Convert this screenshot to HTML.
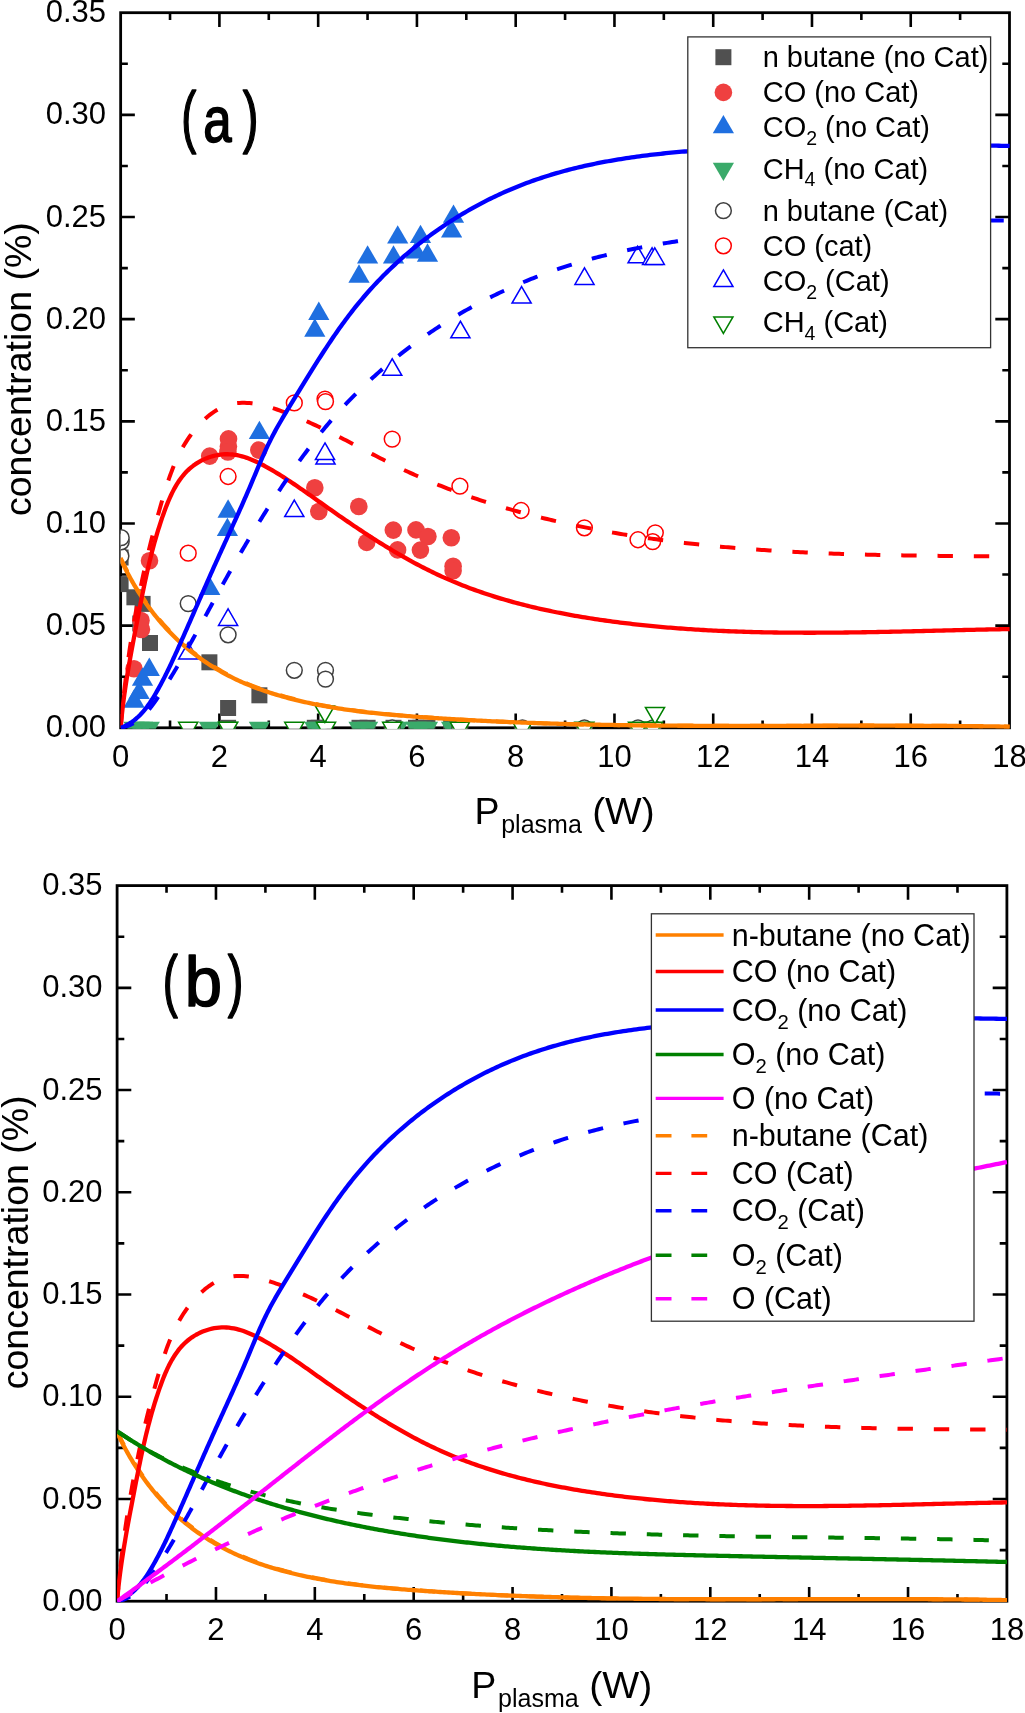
<!DOCTYPE html>
<html><head><meta charset="utf-8"><style>html,body{margin:0;padding:0;background:#fff}svg{display:block;will-change:transform}</style></head>
<body>
<svg width="1025" height="1713" viewBox="0 0 1025 1713">
<style>text{font-family:"Liberation Sans",sans-serif;fill:#000}.tl{font-size:31px}.at{font-size:37.5px}.lg{font-size:29px}.lgb{font-size:30.5px}</style>
<rect width="1025" height="1713" fill="#fff"/>
<clipPath id="ca"><rect x="120.65" y="12.7" width="889.35" height="716.0999999999999"/></clipPath>
<path d="M170.03,727.8v-7.2M170.03,12.7v7.2M219.41,727.8v-14.2M219.41,12.7v14.2M268.79,727.8v-7.2M268.79,12.7v7.2M318.17,727.8v-14.2M318.17,12.7v14.2M367.55,727.8v-7.2M367.55,12.7v7.2M416.93,727.8v-14.2M416.93,12.7v14.2M466.31,727.8v-7.2M466.31,12.7v7.2M515.69,727.8v-14.2M515.69,12.7v14.2M565.08,727.8v-7.2M565.08,12.7v7.2M614.46,727.8v-14.2M614.46,12.7v14.2M663.84,727.8v-7.2M663.84,12.7v7.2M713.22,727.8v-14.2M713.22,12.7v14.2M762.60,727.8v-7.2M762.60,12.7v7.2M811.98,727.8v-14.2M811.98,12.7v14.2M861.36,727.8v-7.2M861.36,12.7v7.2M910.74,727.8v-14.2M910.74,12.7v14.2M960.12,727.8v-7.2M960.12,12.7v7.2M120.65,676.72h7.2M1009.5,676.72h-7.2M120.65,625.64h14.2M1009.5,625.64h-14.2M120.65,574.56h7.2M1009.5,574.56h-7.2M120.65,523.49h14.2M1009.5,523.49h-14.2M120.65,472.41h7.2M1009.5,472.41h-7.2M120.65,421.33h14.2M1009.5,421.33h-14.2M120.65,370.25h7.2M1009.5,370.25h-7.2M120.65,319.17h14.2M1009.5,319.17h-14.2M120.65,268.09h7.2M1009.5,268.09h-7.2M120.65,217.01h14.2M1009.5,217.01h-14.2M120.65,165.94h7.2M1009.5,165.94h-7.2M120.65,114.86h14.2M1009.5,114.86h-14.2M120.65,63.78h7.2M1009.5,63.78h-7.2" stroke="#000" stroke-width="2.6" fill="none"/>
<text x="120.65" y="766.80" text-anchor="middle" class="tl">0</text>
<text x="219.41" y="766.80" text-anchor="middle" class="tl">2</text>
<text x="318.17" y="766.80" text-anchor="middle" class="tl">4</text>
<text x="416.93" y="766.80" text-anchor="middle" class="tl">6</text>
<text x="515.69" y="766.80" text-anchor="middle" class="tl">8</text>
<text x="614.46" y="766.80" text-anchor="middle" class="tl">10</text>
<text x="713.22" y="766.80" text-anchor="middle" class="tl">12</text>
<text x="811.98" y="766.80" text-anchor="middle" class="tl">14</text>
<text x="910.74" y="766.80" text-anchor="middle" class="tl">16</text>
<text x="1009.50" y="766.80" text-anchor="middle" class="tl">18</text>
<text x="106.05" y="737.40" text-anchor="end" class="tl">0.00</text>
<text x="106.05" y="635.24" text-anchor="end" class="tl">0.05</text>
<text x="106.05" y="533.09" text-anchor="end" class="tl">0.10</text>
<text x="106.05" y="430.93" text-anchor="end" class="tl">0.15</text>
<text x="106.05" y="328.77" text-anchor="end" class="tl">0.20</text>
<text x="106.05" y="226.61" text-anchor="end" class="tl">0.25</text>
<text x="106.05" y="124.46" text-anchor="end" class="tl">0.30</text>
<text x="106.05" y="22.30" text-anchor="end" class="tl">0.35</text>
<rect x="120.65" y="12.7" width="888.85" height="715.10" fill="none" stroke="#000" stroke-width="2.8"/>
<g clip-path="url(#ca)">
<rect x="112.60" y="549.50" width="16" height="16" fill="#505050"/>
<rect x="112.60" y="576.10" width="16" height="16" fill="#505050"/>
<rect x="126.40" y="589.30" width="16" height="16" fill="#505050"/>
<rect x="134.60" y="595.90" width="16" height="16" fill="#505050"/>
<rect x="132.30" y="615.50" width="16" height="16" fill="#505050"/>
<rect x="142.00" y="635.00" width="16" height="16" fill="#505050"/>
<rect x="201.40" y="654.30" width="16" height="16" fill="#505050"/>
<rect x="220.10" y="700.00" width="16" height="16" fill="#505050"/>
<rect x="251.40" y="687.30" width="16" height="16" fill="#505050"/>
<rect x="220.10" y="719.80" width="16" height="16" fill="#505050"/>
<rect x="306.80" y="719.80" width="16" height="16" fill="#505050"/>
<rect x="310.80" y="719.80" width="16" height="16" fill="#505050"/>
<rect x="351.50" y="719.80" width="16" height="16" fill="#505050"/>
<rect x="359.60" y="719.80" width="16" height="16" fill="#505050"/>
<rect x="385.50" y="719.80" width="16" height="16" fill="#505050"/>
<rect x="408.00" y="719.80" width="16" height="16" fill="#505050"/>
<rect x="412.40" y="719.80" width="16" height="16" fill="#505050"/>
<rect x="419.40" y="719.80" width="16" height="16" fill="#505050"/>
<rect x="443.20" y="719.80" width="16" height="16" fill="#505050"/>
<rect x="445.00" y="719.80" width="16" height="16" fill="#505050"/>
<circle cx="134.00" cy="668.70" r="8.8" fill="#ef4040"/>
<circle cx="141.00" cy="620.50" r="8.8" fill="#ef4040"/>
<circle cx="141.40" cy="629.50" r="8.8" fill="#ef4040"/>
<circle cx="149.50" cy="560.80" r="8.8" fill="#ef4040"/>
<circle cx="209.70" cy="456.10" r="8.8" fill="#ef4040"/>
<circle cx="228.50" cy="438.90" r="8.8" fill="#ef4040"/>
<circle cx="228.40" cy="446.50" r="8.8" fill="#ef4040"/>
<circle cx="227.90" cy="452.00" r="8.8" fill="#ef4040"/>
<circle cx="258.80" cy="450.10" r="8.8" fill="#ef4040"/>
<circle cx="314.80" cy="487.80" r="8.8" fill="#ef4040"/>
<circle cx="318.80" cy="511.50" r="8.8" fill="#ef4040"/>
<circle cx="358.80" cy="506.50" r="8.8" fill="#ef4040"/>
<circle cx="366.70" cy="542.40" r="8.8" fill="#ef4040"/>
<circle cx="393.30" cy="530.10" r="8.8" fill="#ef4040"/>
<circle cx="397.60" cy="549.90" r="8.8" fill="#ef4040"/>
<circle cx="416.00" cy="529.90" r="8.8" fill="#ef4040"/>
<circle cx="427.90" cy="536.50" r="8.8" fill="#ef4040"/>
<circle cx="420.40" cy="550.10" r="8.8" fill="#ef4040"/>
<circle cx="451.30" cy="537.70" r="8.8" fill="#ef4040"/>
<circle cx="453.10" cy="566.30" r="8.8" fill="#ef4040"/>
<circle cx="453.10" cy="570.80" r="8.8" fill="#ef4040"/>
<polygon points="134.10,689.35 144.71,707.73 123.49,707.73" fill="#1f6fe0"/>
<polygon points="139.10,680.55 149.71,698.92 128.49,698.92" fill="#1f6fe0"/>
<polygon points="142.50,667.45 153.11,685.83 131.89,685.83" fill="#1f6fe0"/>
<polygon points="149.30,657.55 159.91,675.92 138.69,675.92" fill="#1f6fe0"/>
<polygon points="209.80,576.75 220.41,595.12 199.19,595.12" fill="#1f6fe0"/>
<polygon points="227.40,517.75 238.01,536.12 216.79,536.12" fill="#1f6fe0"/>
<polygon points="228.10,499.35 238.71,517.73 217.49,517.73" fill="#1f6fe0"/>
<polygon points="259.40,420.75 270.01,439.12 248.79,439.12" fill="#1f6fe0"/>
<polygon points="314.80,318.35 325.41,336.73 304.19,336.73" fill="#1f6fe0"/>
<polygon points="318.80,301.55 329.41,319.93 308.19,319.93" fill="#1f6fe0"/>
<polygon points="359.00,264.35 369.61,282.73 348.39,282.73" fill="#1f6fe0"/>
<polygon points="367.60,245.25 378.21,263.62 356.99,263.62" fill="#1f6fe0"/>
<polygon points="393.50,245.25 404.11,263.62 382.89,263.62" fill="#1f6fe0"/>
<polygon points="397.70,225.15 408.31,243.53 387.09,243.53" fill="#1f6fe0"/>
<polygon points="416.10,240.25 426.71,258.62 405.49,258.62" fill="#1f6fe0"/>
<polygon points="420.50,224.75 431.11,243.12 409.89,243.12" fill="#1f6fe0"/>
<polygon points="427.50,243.35 438.11,261.73 416.89,261.73" fill="#1f6fe0"/>
<polygon points="451.60,219.05 462.21,237.43 440.99,237.43" fill="#1f6fe0"/>
<polygon points="453.50,204.45 464.11,222.82 442.89,222.82" fill="#1f6fe0"/>
<polygon points="134.10,740.05 144.71,721.67 123.49,721.67" fill="#3aaa6a"/>
<polygon points="139.10,740.05 149.71,721.67 128.49,721.67" fill="#3aaa6a"/>
<polygon points="142.50,740.05 153.11,721.67 131.89,721.67" fill="#3aaa6a"/>
<polygon points="149.30,740.05 159.91,721.67 138.69,721.67" fill="#3aaa6a"/>
<polygon points="209.40,740.05 220.01,721.67 198.79,721.67" fill="#3aaa6a"/>
<polygon points="228.10,740.05 238.71,721.67 217.49,721.67" fill="#3aaa6a"/>
<polygon points="259.40,740.05 270.01,721.67 248.79,721.67" fill="#3aaa6a"/>
<polygon points="314.80,740.05 325.41,721.67 304.19,721.67" fill="#3aaa6a"/>
<polygon points="318.80,740.05 329.41,721.67 308.19,721.67" fill="#3aaa6a"/>
<polygon points="359.00,740.05 369.61,721.67 348.39,721.67" fill="#3aaa6a"/>
<polygon points="367.60,740.05 378.21,721.67 356.99,721.67" fill="#3aaa6a"/>
<polygon points="393.50,740.05 404.11,721.67 382.89,721.67" fill="#3aaa6a"/>
<polygon points="397.70,740.05 408.31,721.67 387.09,721.67" fill="#3aaa6a"/>
<polygon points="416.10,740.05 426.71,721.67 405.49,721.67" fill="#3aaa6a"/>
<polygon points="420.50,740.05 431.11,721.67 409.89,721.67" fill="#3aaa6a"/>
<polygon points="427.50,740.05 438.11,721.67 416.89,721.67" fill="#3aaa6a"/>
<polygon points="451.60,740.05 462.21,721.67 440.99,721.67" fill="#3aaa6a"/>
<polygon points="453.50,740.05 464.11,721.67 442.89,721.67" fill="#3aaa6a"/>
<circle cx="120.90" cy="556.00" r="7.9" fill="#fff" stroke="#404040" stroke-width="1.5"/>
<circle cx="121.20" cy="541.80" r="7.9" fill="#fff" stroke="#404040" stroke-width="1.5"/>
<circle cx="121.20" cy="537.70" r="7.9" fill="#fff" stroke="#404040" stroke-width="1.5"/>
<circle cx="188.20" cy="603.60" r="7.9" fill="#fff" stroke="#404040" stroke-width="1.5"/>
<circle cx="228.10" cy="634.80" r="7.9" fill="#fff" stroke="#404040" stroke-width="1.5"/>
<circle cx="294.30" cy="670.30" r="7.9" fill="#fff" stroke="#404040" stroke-width="1.5"/>
<circle cx="325.50" cy="670.30" r="7.9" fill="#fff" stroke="#404040" stroke-width="1.5"/>
<circle cx="325.50" cy="679.10" r="7.9" fill="#fff" stroke="#404040" stroke-width="1.5"/>
<circle cx="392.20" cy="727.80" r="7.9" fill="#fff" stroke="#404040" stroke-width="1.5"/>
<circle cx="459.90" cy="727.80" r="7.9" fill="#fff" stroke="#404040" stroke-width="1.5"/>
<circle cx="522.40" cy="727.80" r="7.9" fill="#fff" stroke="#404040" stroke-width="1.5"/>
<circle cx="584.40" cy="727.80" r="7.9" fill="#fff" stroke="#404040" stroke-width="1.5"/>
<circle cx="638.00" cy="727.80" r="7.9" fill="#fff" stroke="#404040" stroke-width="1.5"/>
<circle cx="653.00" cy="727.80" r="7.9" fill="#fff" stroke="#404040" stroke-width="1.5"/>
<circle cx="188.20" cy="553.20" r="7.9" fill="#fff" stroke="#ff0000" stroke-width="1.5"/>
<circle cx="228.10" cy="476.50" r="7.9" fill="#fff" stroke="#ff0000" stroke-width="1.5"/>
<circle cx="294.30" cy="402.90" r="7.9" fill="#fff" stroke="#ff0000" stroke-width="1.5"/>
<circle cx="325.00" cy="399.10" r="7.9" fill="#fff" stroke="#ff0000" stroke-width="1.5"/>
<circle cx="325.50" cy="401.60" r="7.9" fill="#fff" stroke="#ff0000" stroke-width="1.5"/>
<circle cx="392.20" cy="439.10" r="7.9" fill="#fff" stroke="#ff0000" stroke-width="1.5"/>
<circle cx="459.90" cy="486.20" r="7.9" fill="#fff" stroke="#ff0000" stroke-width="1.5"/>
<circle cx="521.10" cy="510.50" r="7.9" fill="#fff" stroke="#ff0000" stroke-width="1.5"/>
<circle cx="584.40" cy="527.80" r="7.9" fill="#fff" stroke="#ff0000" stroke-width="1.5"/>
<circle cx="638.00" cy="539.75" r="7.9" fill="#fff" stroke="#ff0000" stroke-width="1.5"/>
<circle cx="655.30" cy="532.80" r="7.9" fill="#fff" stroke="#ff0000" stroke-width="1.5"/>
<circle cx="652.70" cy="541.70" r="7.9" fill="#fff" stroke="#ff0000" stroke-width="1.5"/>
<polygon points="188.20,642.55 197.77,659.12 178.63,659.12" fill="#fff" stroke="#0000ff" stroke-width="1.5" stroke-linejoin="miter"/>
<polygon points="228.10,608.85 237.67,625.42 218.53,625.42" fill="#fff" stroke="#0000ff" stroke-width="1.5" stroke-linejoin="miter"/>
<polygon points="294.30,500.05 303.87,516.62 284.73,516.62" fill="#fff" stroke="#0000ff" stroke-width="1.5" stroke-linejoin="miter"/>
<polygon points="325.50,447.45 335.07,464.02 315.93,464.02" fill="#fff" stroke="#0000ff" stroke-width="1.5" stroke-linejoin="miter"/>
<polygon points="325.00,442.95 334.57,459.52 315.43,459.52" fill="#fff" stroke="#0000ff" stroke-width="1.5" stroke-linejoin="miter"/>
<polygon points="392.20,358.75 401.77,375.32 382.63,375.32" fill="#fff" stroke="#0000ff" stroke-width="1.5" stroke-linejoin="miter"/>
<polygon points="460.40,321.25 469.97,337.82 450.83,337.82" fill="#fff" stroke="#0000ff" stroke-width="1.5" stroke-linejoin="miter"/>
<polygon points="521.60,286.55 531.17,303.12 512.03,303.12" fill="#fff" stroke="#0000ff" stroke-width="1.5" stroke-linejoin="miter"/>
<polygon points="584.50,267.85 594.07,284.42 574.93,284.42" fill="#fff" stroke="#0000ff" stroke-width="1.5" stroke-linejoin="miter"/>
<polygon points="637.60,246.25 647.17,262.82 628.03,262.82" fill="#fff" stroke="#0000ff" stroke-width="1.5" stroke-linejoin="miter"/>
<polygon points="652.10,247.85 661.67,264.42 642.53,264.42" fill="#fff" stroke="#0000ff" stroke-width="1.5" stroke-linejoin="miter"/>
<polygon points="654.80,247.85 664.37,264.42 645.23,264.42" fill="#fff" stroke="#0000ff" stroke-width="1.5" stroke-linejoin="miter"/>
<polygon points="188.20,738.85 197.77,722.27 178.63,722.27" fill="#fff" stroke="#008000" stroke-width="1.5" stroke-linejoin="miter"/>
<polygon points="228.10,738.85 237.67,722.27 218.53,722.27" fill="#fff" stroke="#008000" stroke-width="1.5" stroke-linejoin="miter"/>
<polygon points="294.30,738.85 303.87,722.27 284.73,722.27" fill="#fff" stroke="#008000" stroke-width="1.5" stroke-linejoin="miter"/>
<polygon points="326.00,738.85 335.57,722.27 316.43,722.27" fill="#fff" stroke="#008000" stroke-width="1.5" stroke-linejoin="miter"/>
<polygon points="392.20,738.85 401.77,722.27 382.63,722.27" fill="#fff" stroke="#008000" stroke-width="1.5" stroke-linejoin="miter"/>
<polygon points="459.90,738.85 469.47,722.27 450.33,722.27" fill="#fff" stroke="#008000" stroke-width="1.5" stroke-linejoin="miter"/>
<polygon points="522.40,738.85 531.97,722.27 512.83,722.27" fill="#fff" stroke="#008000" stroke-width="1.5" stroke-linejoin="miter"/>
<polygon points="584.40,738.85 593.97,722.27 574.83,722.27" fill="#fff" stroke="#008000" stroke-width="1.5" stroke-linejoin="miter"/>
<polygon points="638.00,738.85 647.57,722.27 628.43,722.27" fill="#fff" stroke="#008000" stroke-width="1.5" stroke-linejoin="miter"/>
<polygon points="653.00,738.85 662.57,722.27 643.43,722.27" fill="#fff" stroke="#008000" stroke-width="1.5" stroke-linejoin="miter"/>
<polygon points="324.90,722.45 334.47,705.88 315.33,705.88" fill="#fff" stroke="#008000" stroke-width="1.5" stroke-linejoin="miter"/>
<polygon points="655.00,723.95 664.57,707.38 645.43,707.38" fill="#fff" stroke="#008000" stroke-width="1.5" stroke-linejoin="miter"/>
<path d="M120.66,559.10 L121.56,561.01 L122.46,562.92 L123.39,564.82 L124.32,566.71 L125.27,568.60 L126.23,570.49 L127.21,572.37 L128.20,574.24 L129.21,576.11 L130.22,577.97 L131.26,579.82 L132.30,581.67 L133.36,583.51 L134.44,585.34 L135.53,587.17 L136.63,588.98 L137.74,590.79 L138.87,592.59 L140.02,594.39 L141.17,596.17 L142.35,597.94 L143.53,599.71 L144.73,601.46 L145.94,603.21 L147.17,604.94 L148.41,606.66 L149.67,608.38 L150.93,610.08 L152.22,611.77 L153.51,613.45 L154.82,615.12 L156.15,616.77 L157.49,618.41 L158.84,620.04 L160.20,621.66 L161.58,623.27 L162.98,624.86 L164.39,626.43 L165.81,628.00 L167.24,629.55 L168.69,631.08 L170.16,632.60 L171.64,634.10 L173.13,635.59 L174.63,637.07 L176.15,638.53 L177.68,639.97 L179.23,641.40 L180.79,642.81 L182.36,644.21 L183.95,645.59 L185.55,646.96 L187.16,648.31 L188.78,649.64 L190.41,650.96 L192.06,652.27 L193.72,653.56 L195.39,654.83 L197.07,656.09 L198.77,657.33 L200.47,658.55 L202.19,659.76 L203.92,660.96 L205.66,662.14 L207.41,663.30 L209.17,664.45 L210.94,665.58 L212.72,666.69 L214.51,667.79 L216.31,668.87 L218.12,669.94 L219.94,670.99 L221.77,672.02 L223.61,673.04 L225.46,674.05 L227.31,675.03 L229.18,676.00 L231.05,676.96 L232.94,677.89 L234.83,678.81 L236.73,679.72 L238.64,680.61 L240.55,681.48 L242.47,682.34 L244.41,683.18 L246.34,684.00 L248.29,684.81 L250.24,685.60 L252.20,686.38 L254.17,687.14 L256.14,687.89 L258.11,688.62 L260.10,689.34 L262.09,690.04 L264.08,690.73 L266.08,691.41 L268.08,692.07 L270.09,692.72 L272.10,693.36 L274.12,693.99 L276.14,694.60 L278.16,695.21 L280.19,695.80 L282.22,696.38 L284.25,696.94 L286.28,697.50 L288.32,698.05 L290.36,698.59 L292.40,699.11 L294.45,699.63 L296.50,700.13 L298.55,700.63 L300.60,701.11 L302.65,701.59 L304.71,702.06 L306.77,702.51 L308.83,702.96 L310.90,703.40 L312.96,703.83 L315.03,704.25 L317.10,704.66 L319.17,705.06 L321.24,705.46 L323.32,705.84 L325.40,706.22 L327.48,706.59 L329.56,706.95 L331.64,707.31 L333.72,707.66 L335.81,707.99 L337.90,708.33 L339.99,708.65 L342.08,708.97 L344.17,709.28 L346.26,709.58 L348.36,709.88 L350.45,710.17 L352.55,710.46 L354.65,710.73 L356.75,711.01 L358.85,711.27 L360.95,711.53 L363.06,711.79 L365.16,712.03 L367.27,712.28 L369.37,712.52 L371.48,712.75 L373.59,712.98 L375.70,713.20 L377.81,713.42 L379.92,713.63 L382.03,713.84 L384.14,714.05 L386.26,714.25 L388.37,714.45 L390.48,714.64 L392.60,714.83 L394.71,715.02 L396.83,715.20 L398.94,715.38 L401.06,715.55 L403.18,715.73 L405.29,715.90 L407.41,716.06 L409.53,716.23 L411.64,716.39 L413.76,716.55 L415.88,716.71 L417.99,716.86 L420.11,717.02 L422.23,717.17 L424.35,717.32 L426.46,717.47 L428.58,717.61 L430.70,717.76 L432.81,717.90 L434.93,718.04 L437.04,718.18 L439.16,718.32 L441.28,718.46 L443.39,718.59 L445.51,718.73 L447.62,718.86 L449.74,718.99 L451.86,719.12 L453.97,719.25 L456.09,719.37 L458.20,719.50 L460.32,719.62 L462.43,719.74 L464.55,719.86 L466.66,719.98 L468.78,720.09 L470.89,720.21 L473.01,720.32 L475.12,720.43 L477.23,720.54 L479.35,720.65 L481.46,720.76 L483.58,720.87 L485.69,720.97 L487.81,721.07 L489.92,721.18 L492.03,721.28 L494.15,721.38 L496.26,721.47 L498.38,721.57 L500.49,721.66 L502.60,721.76 L504.72,721.85 L506.83,721.94 L508.94,722.03 L511.06,722.12 L513.17,722.21 L515.28,722.29 L517.39,722.37 L519.51,722.46 L521.62,722.54 L523.73,722.62 L525.85,722.70 L527.96,722.78 L530.07,722.85 L532.18,722.93 L534.30,723.00 L536.41,723.08 L538.52,723.15 L540.63,723.22 L542.75,723.29 L544.86,723.36 L546.97,723.42 L549.08,723.49 L551.19,723.55 L553.31,723.62 L555.42,723.68 L557.53,723.74 L559.64,723.80 L561.75,723.86 L563.86,723.92 L565.98,723.98 L568.09,724.03 L570.20,724.09 L572.31,724.14 L574.42,724.19 L576.53,724.24 L578.64,724.29 L580.76,724.34 L582.87,724.39 L584.98,724.44 L587.09,724.49 L589.20,724.53 L591.31,724.58 L593.42,724.62 L595.53,724.66 L597.64,724.71 L599.76,724.75 L601.87,724.79 L603.98,724.83 L606.09,724.86 L608.20,724.90 L610.31,724.94 L612.42,724.97 L614.53,725.01 L616.64,725.04 L618.75,725.08 L620.86,725.11 L622.97,725.14 L625.08,725.17 L627.19,725.20 L629.30,725.23 L631.42,725.26 L633.53,725.28 L635.64,725.31 L637.75,725.34 L639.86,725.36 L641.97,725.39 L644.08,725.41 L646.19,725.43 L648.30,725.45 L650.41,725.48 L652.52,725.50 L654.63,725.52 L656.74,725.54 L658.85,725.55 L660.96,725.57 L663.07,725.59 L665.18,725.61 L667.29,725.62 L669.40,725.64 L671.51,725.65 L673.62,725.67 L675.73,725.68 L677.84,725.69 L679.95,725.71 L682.06,725.72 L684.17,725.73 L686.28,725.74 L688.39,725.75 L690.50,725.76 L692.61,725.77 L694.72,725.78 L696.83,725.79 L698.94,725.80 L701.05,725.80 L703.16,725.81 L705.27,725.82 L707.38,725.82 L709.49,725.83 L711.60,725.83 L713.71,725.84 L715.82,725.84 L717.93,725.85 L720.04,725.85 L722.15,725.85 L724.26,725.86 L726.37,725.86 L728.48,725.86 L730.59,725.86 L732.70,725.86 L734.81,725.86 L736.92,725.86 L739.03,725.86 L741.14,725.86 L743.26,725.86 L745.37,725.86 L747.48,725.86 L749.59,725.86 L751.70,725.86 L753.81,725.86 L755.92,725.86 L758.03,725.86 L760.14,725.85 L762.25,725.85 L764.36,725.85 L766.47,725.85 L768.58,725.84 L770.69,725.84 L772.80,725.84 L774.91,725.83 L777.02,725.83 L779.13,725.82 L781.25,725.82 L783.36,725.82 L785.47,725.81 L787.58,725.81 L789.69,725.80 L791.80,725.80 L793.91,725.80 L796.02,725.79 L798.13,725.79 L800.24,725.78 L802.36,725.78 L804.47,725.77 L806.58,725.77 L808.69,725.76 L810.80,725.76 L812.91,725.75 L815.02,725.75 L817.14,725.74 L819.25,725.74 L821.36,725.74 L823.47,725.73 L825.58,725.73 L827.69,725.72 L829.81,725.72 L831.92,725.71 L834.03,725.71 L836.14,725.71 L838.25,725.70 L840.37,725.70 L842.48,725.70 L844.59,725.69 L846.70,725.69 L848.82,725.69 L850.93,725.68 L853.04,725.68 L855.15,725.68 L857.27,725.68 L859.38,725.68 L861.49,725.67 L863.60,725.67 L865.72,725.67 L867.83,725.67 L869.94,725.67 L872.06,725.67 L874.17,725.67 L876.28,725.67 L878.40,725.67 L880.51,725.67 L882.62,725.67 L884.74,725.67 L886.85,725.68 L888.96,725.68 L891.08,725.68 L893.19,725.68 L895.31,725.69 L897.42,725.69 L899.53,725.70 L901.65,725.70 L903.76,725.71 L905.88,725.71 L907.99,725.72 L910.11,725.72 L912.22,725.73 L914.33,725.74 L916.45,725.75 L918.56,725.75 L920.68,725.76 L922.79,725.77 L924.91,725.78 L927.03,725.79 L929.14,725.80 L931.26,725.81 L933.37,725.83 L935.49,725.84 L937.60,725.85 L939.72,725.87 L941.83,725.88 L943.95,725.89 L946.07,725.91 L948.18,725.93 L950.30,725.94 L952.42,725.96 L954.53,725.98 L956.65,726.00 L958.77,726.02 L960.88,726.04 L963.00,726.06 L965.12,726.08 L967.23,726.10 L969.35,726.12 L971.47,726.15 L973.59,726.17 L975.70,726.20 L977.82,726.22 L979.94,726.25 L982.06,726.27 L984.18,726.30 L986.29,726.33 L988.41,726.36 L990.53,726.39 L992.65,726.42 L994.77,726.46 L996.89,726.49 L999.01,726.52 L1001.12,726.56 L1003.24,726.59 L1005.36,726.63 L1007.48,726.67 L1009.60,726.70" fill="none" stroke="#ff8000" stroke-width="4.3" stroke-linejoin="round"/>
<path d="M120.66,557.88 L121.56,559.79 L122.46,561.69 L123.38,563.59 L124.32,565.49 L125.27,567.38 L126.23,569.27 L127.21,571.15 L128.20,573.02 L129.20,574.89 L130.22,576.75 L131.25,578.61 L132.29,580.46 L133.35,582.30 L134.43,584.13 L135.51,585.96 L136.61,587.78 L137.73,589.59 L138.85,591.39 L139.99,593.19 L141.15,594.97 L142.32,596.75 L143.50,598.52 L144.70,600.27 L145.91,602.02 L147.13,603.76 L148.37,605.49 L149.62,607.20 L150.89,608.91 L152.17,610.60 L153.46,612.28 L154.77,613.95 L156.09,615.61 L157.43,617.26 L158.78,618.89 L160.14,620.51 L161.52,622.12 L162.91,623.72 L164.31,625.30 L165.73,626.87 L167.16,628.42 L168.61,629.96 L170.07,631.48 L171.54,632.99 L173.03,634.49 L174.54,635.97 L176.05,637.43 L177.58,638.88 L179.12,640.32 L180.68,641.73 L182.25,643.14 L183.83,644.53 L185.42,645.90 L187.03,647.25 L188.65,648.60 L190.28,649.92 L191.93,651.23 L193.58,652.53 L195.25,653.81 L196.93,655.07 L198.62,656.32 L200.32,657.55 L202.03,658.77 L203.76,659.97 L205.49,661.16 L207.24,662.33 L209.00,663.48 L210.76,664.62 L212.54,665.74 L214.33,666.85 L216.13,667.94 L217.93,669.02 L219.75,670.08 L221.58,671.12 L223.41,672.15 L225.26,673.16 L227.11,674.15 L228.97,675.13 L230.84,676.09 L232.72,677.04 L234.61,677.97 L236.51,678.88 L238.42,679.78 L240.33,680.66 L242.25,681.53 L244.18,682.38 L246.11,683.21 L248.06,684.03 L250.01,684.83 L251.96,685.62 L253.93,686.39 L255.89,687.14 L257.87,687.89 L259.85,688.61 L261.84,689.33 L263.83,690.03 L265.83,690.72 L267.83,691.39 L269.83,692.05 L271.84,692.70 L273.86,693.33 L275.88,693.96 L277.90,694.57 L279.92,695.17 L281.95,695.76 L283.98,696.34 L286.02,696.90 L288.05,697.46 L290.09,698.00 L292.13,698.54 L294.18,699.06 L296.22,699.58 L298.27,700.08 L300.32,700.58 L302.38,701.06 L304.43,701.54 L306.49,702.00 L308.55,702.46 L310.61,702.91 L312.68,703.34 L314.75,703.77 L316.82,704.19 L318.89,704.60 L320.96,705.01 L323.03,705.40 L325.11,705.79 L327.19,706.17 L329.27,706.54 L331.35,706.90 L333.44,707.25 L335.52,707.60 L337.61,707.94 L339.70,708.27 L341.79,708.60 L343.88,708.92 L345.97,709.23 L348.07,709.53 L350.16,709.83 L352.26,710.12 L354.36,710.41 L356.46,710.69 L358.56,710.96 L360.66,711.23 L362.77,711.49 L364.87,711.75 L366.98,712.00 L369.08,712.24 L371.19,712.48 L373.30,712.72 L375.41,712.95 L377.52,713.17 L379.63,713.39 L381.74,713.61 L383.85,713.82 L385.97,714.03 L388.08,714.23 L390.19,714.43 L392.31,714.63 L394.42,714.82 L396.54,715.01 L398.66,715.19 L400.77,715.37 L402.89,715.55 L405.01,715.73 L407.12,715.90 L409.24,716.07 L411.36,716.24 L413.48,716.40 L415.59,716.57 L417.71,716.73 L419.83,716.89 L421.95,717.04 L424.06,717.20 L426.18,717.35 L428.30,717.50 L430.42,717.65 L432.53,717.80 L434.65,717.94 L436.77,718.09 L438.88,718.23 L441.00,718.37 L443.12,718.51 L445.23,718.65 L447.35,718.79 L449.47,718.92 L451.58,719.05 L453.70,719.18 L455.81,719.31 L457.93,719.44 L460.05,719.57 L462.16,719.69 L464.28,719.81 L466.39,719.93 L468.51,720.05 L470.62,720.17 L472.74,720.29 L474.85,720.40 L476.97,720.52 L479.08,720.63 L481.20,720.74 L483.31,720.85 L485.43,720.95 L487.54,721.06 L489.66,721.17 L491.77,721.27 L493.89,721.37 L496.00,721.47 L498.12,721.57 L500.23,721.67 L502.35,721.76 L504.46,721.86 L506.57,721.95 L508.69,722.04 L510.80,722.13 L512.92,722.22 L515.03,722.31 L517.14,722.39 L519.26,722.48 L521.37,722.56 L523.49,722.64 L525.60,722.72 L527.71,722.80 L529.83,722.88 L531.94,722.96 L534.05,723.03 L536.17,723.11 L538.28,723.18 L540.39,723.25 L542.51,723.32 L544.62,723.39 L546.73,723.46 L548.85,723.53 L550.96,723.59 L553.07,723.66 L555.18,723.72 L557.30,723.78 L559.41,723.84 L561.52,723.90 L563.64,723.96 L565.75,724.02 L567.86,724.08 L569.97,724.13 L572.09,724.19 L574.20,724.24 L576.31,724.29 L578.42,724.34 L580.54,724.39 L582.65,724.44 L584.76,724.49 L586.87,724.54 L588.98,724.58 L591.10,724.63 L593.21,724.67 L595.32,724.72 L597.43,724.76 L599.54,724.80 L601.66,724.84 L603.77,724.88 L605.88,724.92 L607.99,724.95 L610.10,724.99 L612.22,725.03 L614.33,725.06 L616.44,725.09 L618.55,725.13 L620.66,725.16 L622.77,725.19 L624.89,725.22 L627.00,725.25 L629.11,725.28 L631.22,725.31 L633.33,725.33 L635.44,725.36 L637.55,725.38 L639.67,725.41 L641.78,725.43 L643.89,725.46 L646.00,725.48 L648.11,725.50 L650.22,725.52 L652.34,725.54 L654.45,725.56 L656.56,725.58 L658.67,725.60 L660.78,725.61 L662.89,725.63 L665.00,725.65 L667.11,725.66 L669.23,725.68 L671.34,725.69 L673.45,725.70 L675.56,725.72 L677.67,725.73 L679.78,725.74 L681.89,725.75 L684.00,725.76 L686.12,725.77 L688.23,725.78 L690.34,725.79 L692.45,725.80 L694.56,725.81 L696.67,725.81 L698.78,725.82 L700.90,725.83 L703.01,725.83 L705.12,725.84 L707.23,725.84 L709.34,725.85 L711.45,725.85 L713.56,725.85 L715.67,725.86 L717.79,725.86 L719.90,725.86 L722.01,725.86 L724.12,725.87 L726.23,725.87 L728.34,725.87 L730.45,725.87 L732.57,725.87 L734.68,725.87 L736.79,725.87 L738.90,725.87 L741.01,725.87 L743.12,725.86 L745.23,725.86 L747.35,725.86 L749.46,725.86 L751.57,725.86 L753.68,725.85 L755.79,725.85 L757.90,725.85 L760.02,725.84 L762.13,725.84 L764.24,725.84 L766.35,725.83 L768.46,725.83 L770.58,725.82 L772.69,725.82 L774.80,725.81 L776.91,725.81 L779.02,725.80 L781.13,725.80 L783.25,725.79 L785.36,725.79 L787.47,725.78 L789.58,725.78 L791.70,725.77 L793.81,725.77 L795.92,725.76 L798.03,725.76 L800.14,725.75 L802.26,725.74 L804.37,725.74 L806.48,725.73 L808.59,725.73 L810.71,725.72 L812.82,725.72 L814.93,725.71 L817.05,725.71 L819.16,725.70 L821.27,725.69 L823.38,725.69 L825.50,725.68 L827.61,725.68 L829.72,725.67 L831.84,725.67 L833.95,725.66 L836.06,725.66 L838.18,725.66 L840.29,725.65 L842.40,725.65 L844.52,725.64 L846.63,725.64 L848.74,725.64 L850.86,725.63 L852.97,725.63 L855.08,725.63 L857.20,725.62 L859.31,725.62 L861.42,725.62 L863.54,725.62 L865.65,725.62 L867.77,725.61 L869.88,725.61 L871.99,725.61 L874.11,725.61 L876.22,725.61 L878.34,725.61 L880.45,725.61 L882.57,725.61 L884.68,725.62 L886.80,725.62 L888.91,725.62 L891.03,725.62 L893.14,725.63 L895.26,725.63 L897.37,725.63 L899.49,725.64 L901.60,725.64 L903.72,725.65 L905.83,725.65 L907.95,725.66 L910.06,725.66 L912.18,725.67 L914.29,725.68 L916.41,725.69 L918.53,725.70 L920.64,725.71 L922.76,725.71 L924.87,725.72 L926.99,725.74 L929.11,725.75 L931.22,725.76 L933.34,725.77 L935.46,725.78 L937.57,725.80 L939.69,725.81 L941.81,725.83 L943.92,725.84 L946.04,725.86 L948.16,725.88 L950.28,725.89 L952.39,725.91 L954.51,725.93 L956.63,725.95 L958.75,725.97 L960.86,725.99 L962.98,726.02 L965.10,726.04 L967.22,726.06 L969.34,726.09 L971.45,726.11 L973.57,726.14 L975.69,726.16 L977.81,726.19 L979.93,726.22 L982.05,726.25 L984.17,726.28 L986.28,726.31 L988.40,726.34 L990.52,726.37 L992.64,726.41 L994.76,726.44 L996.88,726.47 L999.00,726.51 L1001.12,726.55 L1003.24,726.59 L1005.36,726.62 L1007.48,726.66 L1009.60,726.70" fill="none" stroke="#ff8000" stroke-width="4.0" stroke-dasharray="15.4 20.9" stroke-dashoffset="0" stroke-linejoin="round"/>
<path d="M120.66,727.90 L120.87,725.40 L121.09,722.90 L121.32,720.39 L121.56,717.89 L121.82,715.38 L122.09,712.87 L122.37,710.36 L122.66,707.85 L122.96,705.35 L123.27,702.83 L123.59,700.32 L123.92,697.81 L124.26,695.30 L124.61,692.79 L124.97,690.28 L125.34,687.76 L125.71,685.25 L126.09,682.74 L126.48,680.23 L126.88,677.72 L127.28,675.21 L127.69,672.70 L128.11,670.19 L128.53,667.68 L128.96,665.17 L129.40,662.66 L129.84,660.15 L130.28,657.65 L130.73,655.14 L131.18,652.64 L131.64,650.14 L132.10,647.64 L132.56,645.14 L133.03,642.64 L133.50,640.15 L133.97,637.66 L134.44,635.16 L134.92,632.67 L135.39,630.19 L135.87,627.70 L136.35,625.22 L136.83,622.74 L137.30,620.26 L137.78,617.79 L138.26,615.31 L138.74,612.84 L139.22,610.38 L139.70,607.91 L140.18,605.45 L140.66,602.99 L141.15,600.53 L141.64,598.07 L142.13,595.61 L142.62,593.16 L143.12,590.71 L143.63,588.26 L144.14,585.80 L144.65,583.36 L145.18,580.91 L145.70,578.46 L146.24,576.01 L146.78,573.57 L147.33,571.12 L147.89,568.67 L148.46,566.23 L149.03,563.78 L149.62,561.34 L150.22,558.89 L150.83,556.45 L151.44,554.00 L152.07,551.55 L152.72,549.10 L153.37,546.66 L154.04,544.21 L154.72,541.76 L155.41,539.31 L156.12,536.85 L156.84,534.40 L157.58,531.94 L158.34,529.48 L159.11,527.03 L159.89,524.56 L160.70,522.10 L161.52,519.64 L162.36,517.17 L163.21,514.70 L164.09,512.23 L164.99,509.76 L165.91,507.30 L166.86,504.85 L167.84,502.41 L168.86,500.00 L169.90,497.60 L170.99,495.23 L172.11,492.90 L173.28,490.60 L174.49,488.33 L175.75,486.11 L177.06,483.93 L178.42,481.81 L179.83,479.74 L181.31,477.72 L182.84,475.77 L184.44,473.89 L186.10,472.07 L187.82,470.33 L189.62,468.67 L191.49,467.08 L193.42,465.58 L195.40,464.16 L197.45,462.83 L199.54,461.59 L201.69,460.44 L203.88,459.37 L206.11,458.40 L208.38,457.53 L210.68,456.76 L213.01,456.08 L215.37,455.51 L217.75,455.03 L220.15,454.67 L222.57,454.41 L224.99,454.26 L227.43,454.22 L229.86,454.30 L232.30,454.49 L234.74,454.80 L237.17,455.21 L239.60,455.73 L242.02,456.35 L244.43,457.06 L246.84,457.85 L249.24,458.73 L251.62,459.67 L254.00,460.68 L256.36,461.75 L258.71,462.88 L261.05,464.05 L263.37,465.27 L265.68,466.52 L267.97,467.80 L270.24,469.10 L272.49,470.41 L274.72,471.74 L276.94,473.08 L279.13,474.43 L281.31,475.79 L283.48,477.16 L285.63,478.54 L287.77,479.93 L289.89,481.32 L292.00,482.72 L294.10,484.13 L296.19,485.55 L298.28,486.97 L300.35,488.40 L302.42,489.83 L304.48,491.26 L306.54,492.70 L308.59,494.15 L310.64,495.59 L312.68,497.04 L314.73,498.49 L316.77,499.94 L318.82,501.40 L320.86,502.85 L322.91,504.31 L324.97,505.76 L327.02,507.21 L329.08,508.66 L331.14,510.11 L333.21,511.56 L335.28,513.01 L337.35,514.45 L339.43,515.90 L341.51,517.34 L343.59,518.78 L345.68,520.21 L347.77,521.64 L349.86,523.07 L351.96,524.50 L354.06,525.92 L356.17,527.33 L358.28,528.74 L360.39,530.15 L362.51,531.55 L364.63,532.95 L366.75,534.34 L368.89,535.73 L371.02,537.11 L373.16,538.48 L375.30,539.85 L377.45,541.21 L379.60,542.56 L381.76,543.91 L383.92,545.24 L386.08,546.58 L388.25,547.90 L390.43,549.21 L392.61,550.52 L394.79,551.82 L396.98,553.10 L399.18,554.38 L401.38,555.65 L403.58,556.91 L405.79,558.16 L408.00,559.40 L410.22,560.63 L412.45,561.84 L414.68,563.05 L416.91,564.25 L419.15,565.43 L421.40,566.60 L423.65,567.76 L425.91,568.91 L428.17,570.04 L430.44,571.17 L432.71,572.28 L434.99,573.37 L437.28,574.45 L439.57,575.52 L441.86,576.58 L444.16,577.62 L446.47,578.64 L448.79,579.65 L451.11,580.65 L453.43,581.63 L455.76,582.60 L458.10,583.56 L460.44,584.50 L462.79,585.43 L465.14,586.35 L467.49,587.25 L469.86,588.14 L472.22,589.02 L474.59,589.88 L476.97,590.73 L479.35,591.57 L481.74,592.40 L484.13,593.21 L486.52,594.01 L488.92,594.80 L491.32,595.58 L493.73,596.34 L496.14,597.10 L498.56,597.84 L500.98,598.57 L503.40,599.29 L505.83,600.00 L508.26,600.69 L510.69,601.38 L513.13,602.06 L515.57,602.72 L518.01,603.37 L520.46,604.02 L522.91,604.65 L525.37,605.27 L527.82,605.89 L530.28,606.49 L532.75,607.08 L535.21,607.66 L537.68,608.24 L540.15,608.80 L542.63,609.35 L545.10,609.90 L547.58,610.43 L550.06,610.96 L552.54,611.48 L555.03,611.99 L557.52,612.49 L560.00,612.98 L562.50,613.46 L564.99,613.94 L567.48,614.40 L569.98,614.86 L572.48,615.31 L574.98,615.76 L577.48,616.19 L579.98,616.62 L582.48,617.04 L584.98,617.45 L587.49,617.85 L590.00,618.25 L592.50,618.64 L595.01,619.03 L597.52,619.41 L600.03,619.78 L602.54,620.14 L605.05,620.50 L607.56,620.85 L610.07,621.20 L612.58,621.54 L615.10,621.87 L617.61,622.20 L620.12,622.52 L622.64,622.83 L625.15,623.14 L627.67,623.44 L630.18,623.74 L632.70,624.03 L635.21,624.32 L637.73,624.59 L640.24,624.87 L642.76,625.14 L645.28,625.40 L647.80,625.66 L650.32,625.91 L652.83,626.15 L655.35,626.39 L657.87,626.63 L660.39,626.86 L662.91,627.08 L665.43,627.30 L667.95,627.52 L670.48,627.73 L673.00,627.93 L675.52,628.13 L678.04,628.32 L680.56,628.51 L683.09,628.70 L685.61,628.88 L688.13,629.05 L690.66,629.22 L693.18,629.38 L695.71,629.55 L698.23,629.70 L700.76,629.85 L703.28,630.00 L705.81,630.14 L708.33,630.28 L710.86,630.41 L713.39,630.54 L715.91,630.67 L718.44,630.79 L720.97,630.90 L723.50,631.02 L726.02,631.13 L728.55,631.23 L731.08,631.33 L733.61,631.43 L736.14,631.52 L738.67,631.61 L741.20,631.69 L743.73,631.77 L746.26,631.85 L748.79,631.93 L751.32,632.00 L753.85,632.06 L756.38,632.13 L758.91,632.19 L761.44,632.24 L763.97,632.30 L766.50,632.35 L769.03,632.39 L771.56,632.44 L774.10,632.48 L776.63,632.51 L779.16,632.55 L781.69,632.58 L784.22,632.61 L786.76,632.63 L789.29,632.65 L791.82,632.67 L794.36,632.69 L796.89,632.70 L799.42,632.72 L801.96,632.72 L804.49,632.73 L807.02,632.73 L809.56,632.74 L812.09,632.73 L814.62,632.73 L817.16,632.72 L819.69,632.72 L822.22,632.71 L824.76,632.69 L827.29,632.68 L829.83,632.66 L832.36,632.64 L834.90,632.62 L837.43,632.60 L839.96,632.57 L842.50,632.55 L845.03,632.52 L847.57,632.49 L850.10,632.45 L852.64,632.42 L855.17,632.38 L857.70,632.35 L860.24,632.31 L862.77,632.27 L865.31,632.23 L867.84,632.19 L870.38,632.14 L872.91,632.10 L875.45,632.05 L877.98,632.00 L880.51,631.95 L883.05,631.90 L885.58,631.85 L888.12,631.80 L890.65,631.75 L893.18,631.69 L895.72,631.64 L898.25,631.58 L900.79,631.53 L903.32,631.47 L905.85,631.41 L908.39,631.35 L910.92,631.29 L913.45,631.23 L915.99,631.17 L918.52,631.11 L921.05,631.05 L923.59,630.99 L926.12,630.93 L928.65,630.87 L931.18,630.81 L933.72,630.75 L936.25,630.69 L938.78,630.62 L941.31,630.56 L943.84,630.50 L946.38,630.44 L948.91,630.38 L951.44,630.32 L953.97,630.25 L956.50,630.19 L959.03,630.13 L961.56,630.07 L964.09,630.01 L966.62,629.95 L969.15,629.90 L971.68,629.84 L974.21,629.78 L976.74,629.72 L979.27,629.67 L981.80,629.61 L984.33,629.56 L986.86,629.51 L989.38,629.45 L991.91,629.40 L994.44,629.35 L996.97,629.30 L999.49,629.25 L1002.02,629.21 L1004.55,629.16 L1007.07,629.12 L1009.60,629.07" fill="none" stroke="#ff0000" stroke-width="4.3" stroke-linejoin="round"/>
<path d="M120.65,727.90 L120.86,725.33 L121.08,722.75 L121.30,720.18 L121.53,717.60 L121.77,715.03 L122.01,712.46 L122.25,709.89 L122.50,707.31 L122.76,704.74 L123.02,702.17 L123.29,699.60 L123.56,697.03 L123.84,694.46 L124.13,691.90 L124.42,689.33 L124.71,686.76 L125.01,684.20 L125.32,681.63 L125.63,679.07 L125.95,676.50 L126.27,673.94 L126.60,671.38 L126.93,668.82 L127.27,666.26 L127.62,663.70 L127.97,661.14 L128.33,658.58 L128.69,656.02 L129.06,653.46 L129.43,650.91 L129.81,648.35 L130.20,645.80 L130.59,643.25 L130.98,640.70 L131.38,638.14 L131.79,635.59 L132.20,633.05 L132.62,630.50 L133.05,627.95 L133.48,625.40 L133.91,622.86 L134.36,620.32 L134.80,617.77 L135.26,615.23 L135.71,612.69 L136.18,610.15 L136.65,607.61 L137.12,605.08 L137.61,602.54 L138.09,600.01 L138.59,597.47 L139.09,594.94 L139.59,592.41 L140.10,589.88 L140.62,587.35 L141.14,584.82 L141.67,582.30 L142.20,579.77 L142.74,577.25 L143.28,574.73 L143.83,572.21 L144.39,569.69 L144.95,567.17 L145.52,564.65 L146.09,562.14 L146.67,559.63 L147.26,557.11 L147.85,554.60 L148.45,552.09 L149.05,549.59 L149.66,547.08 L150.27,544.58 L150.89,542.07 L151.52,539.57 L152.15,537.07 L152.79,534.57 L153.44,532.08 L154.09,529.58 L154.74,527.09 L155.40,524.60 L156.07,522.11 L156.74,519.62 L157.42,517.13 L158.11,514.65 L158.80,512.16 L159.50,509.68 L160.20,507.20 L160.91,504.73 L161.62,502.25 L162.34,499.78 L163.07,497.30 L163.81,494.83 L164.55,492.37 L165.31,489.90 L166.07,487.45 L166.86,484.99 L167.66,482.55 L168.48,480.11 L169.32,477.68 L170.18,475.25 L171.07,472.84 L171.98,470.43 L172.92,468.04 L173.89,465.65 L174.89,463.28 L175.93,460.92 L177.00,458.58 L178.10,456.24 L179.25,453.93 L180.43,451.62 L181.66,449.34 L182.93,447.07 L184.25,444.81 L185.62,442.58 L187.03,440.37 L188.50,438.17 L190.02,435.99 L191.60,433.84 L193.23,431.71 L194.91,429.61 L196.64,427.55 L198.43,425.54 L200.26,423.57 L202.14,421.65 L204.06,419.80 L206.03,418.01 L208.03,416.30 L210.08,414.66 L212.17,413.11 L214.29,411.64 L216.45,410.27 L218.64,409.01 L220.86,407.85 L223.11,406.81 L225.39,405.88 L227.70,405.08 L230.03,404.41 L232.38,403.86 L234.76,403.43 L237.16,403.11 L239.57,402.90 L242.01,402.80 L244.46,402.79 L246.92,402.88 L249.39,403.06 L251.88,403.33 L254.37,403.67 L256.88,404.09 L259.38,404.57 L261.90,405.12 L264.41,405.74 L266.93,406.40 L269.44,407.12 L271.96,407.88 L274.47,408.68 L276.97,409.52 L279.47,410.39 L281.96,411.28 L284.44,412.19 L286.91,413.13 L289.37,414.07 L291.82,415.04 L294.26,416.02 L296.69,417.01 L299.11,418.02 L301.52,419.04 L303.92,420.07 L306.31,421.12 L308.69,422.18 L311.07,423.25 L313.44,424.33 L315.80,425.42 L318.15,426.53 L320.50,427.64 L322.84,428.76 L325.18,429.89 L327.51,431.02 L329.83,432.17 L332.15,433.32 L334.47,434.48 L336.78,435.64 L339.08,436.81 L341.39,437.99 L343.69,439.16 L345.98,440.35 L348.27,441.53 L350.57,442.72 L352.85,443.91 L355.14,445.10 L357.42,446.30 L359.71,447.49 L361.99,448.68 L364.27,449.88 L366.55,451.07 L368.84,452.26 L371.12,453.45 L373.40,454.63 L375.68,455.82 L377.97,457.00 L380.26,458.17 L382.54,459.34 L384.84,460.51 L387.13,461.67 L389.42,462.82 L391.72,463.97 L394.03,465.11 L396.33,466.24 L398.64,467.37 L400.96,468.48 L403.28,469.59 L405.60,470.69 L407.93,471.77 L410.27,472.85 L412.61,473.92 L414.95,474.97 L417.30,476.02 L419.66,477.06 L422.02,478.09 L424.38,479.11 L426.75,480.11 L429.12,481.11 L431.50,482.10 L433.88,483.09 L436.27,484.06 L438.66,485.02 L441.05,485.97 L443.45,486.92 L445.85,487.86 L448.26,488.78 L450.67,489.70 L453.09,490.61 L455.50,491.51 L457.93,492.40 L460.35,493.28 L462.78,494.16 L465.22,495.02 L467.65,495.88 L470.09,496.72 L472.54,497.56 L474.99,498.40 L477.44,499.22 L479.89,500.03 L482.35,500.84 L484.81,501.64 L487.27,502.43 L489.74,503.21 L492.21,503.98 L494.68,504.75 L497.16,505.50 L499.63,506.25 L502.11,507.00 L504.60,507.73 L507.08,508.46 L509.57,509.17 L512.06,509.89 L514.56,510.59 L517.05,511.28 L519.55,511.97 L522.05,512.65 L524.56,513.33 L527.06,513.99 L529.57,514.65 L532.08,515.30 L534.59,515.95 L537.10,516.58 L539.62,517.21 L542.13,517.84 L544.65,518.45 L547.17,519.06 L549.69,519.66 L552.21,520.26 L554.74,520.85 L557.26,521.43 L559.79,522.00 L562.32,522.57 L564.85,523.13 L567.38,523.69 L569.91,524.24 L572.45,524.78 L574.98,525.32 L577.52,525.85 L580.05,526.37 L582.59,526.89 L585.13,527.40 L587.67,527.90 L590.21,528.40 L592.75,528.89 L595.29,529.38 L597.83,529.86 L600.37,530.34 L602.91,530.80 L605.46,531.27 L608.00,531.72 L610.54,532.18 L613.09,532.62 L615.64,533.06 L618.18,533.50 L620.73,533.92 L623.28,534.35 L625.83,534.76 L628.38,535.18 L630.93,535.58 L633.48,535.98 L636.03,536.38 L638.58,536.77 L641.14,537.15 L643.69,537.53 L646.24,537.91 L648.80,538.28 L651.35,538.64 L653.91,539.00 L656.46,539.35 L659.02,539.70 L661.58,540.05 L664.14,540.39 L666.70,540.72 L669.25,541.05 L671.81,541.37 L674.37,541.69 L676.94,542.01 L679.50,542.32 L682.06,542.62 L684.62,542.92 L687.18,543.22 L689.75,543.51 L692.31,543.79 L694.88,544.07 L697.44,544.35 L700.01,544.63 L702.57,544.89 L705.14,545.16 L707.70,545.42 L710.27,545.67 L712.84,545.92 L715.41,546.17 L717.98,546.41 L720.54,546.65 L723.11,546.89 L725.68,547.12 L728.25,547.35 L730.82,547.57 L733.40,547.79 L735.97,548.00 L738.54,548.21 L741.11,548.42 L743.68,548.62 L746.26,548.82 L748.83,549.02 L751.40,549.21 L753.98,549.40 L756.55,549.58 L759.13,549.76 L761.70,549.94 L764.28,550.12 L766.85,550.29 L769.43,550.45 L772.01,550.62 L774.58,550.78 L777.16,550.94 L779.74,551.09 L782.32,551.24 L784.89,551.39 L787.47,551.53 L790.05,551.68 L792.63,551.81 L795.21,551.95 L797.79,552.08 L800.37,552.21 L802.95,552.34 L805.53,552.46 L808.11,552.58 L810.69,552.70 L813.27,552.82 L815.85,552.93 L818.43,553.04 L821.01,553.15 L823.59,553.25 L826.18,553.35 L828.76,553.45 L831.34,553.55 L833.92,553.64 L836.50,553.74 L839.09,553.83 L841.67,553.91 L844.25,554.00 L846.84,554.08 L849.42,554.16 L852.00,554.24 L854.59,554.32 L857.17,554.39 L859.75,554.46 L862.34,554.53 L864.92,554.60 L867.50,554.67 L870.09,554.73 L872.67,554.79 L875.26,554.85 L877.84,554.91 L880.43,554.97 L883.01,555.03 L885.59,555.08 L888.18,555.13 L890.76,555.18 L893.35,555.23 L895.93,555.28 L898.52,555.32 L901.10,555.37 L903.69,555.41 L906.27,555.45 L908.86,555.49 L911.44,555.53 L914.03,555.57 L916.61,555.61 L919.20,555.64 L921.78,555.67 L924.36,555.71 L926.95,555.74 L929.53,555.77 L932.12,555.80 L934.70,555.83 L937.29,555.86 L939.87,555.88 L942.46,555.91 L945.04,555.94 L947.62,555.96 L950.21,555.98 L952.79,556.01 L955.38,556.03 L957.96,556.05 L960.54,556.07 L963.13,556.10 L965.71,556.12 L968.29,556.14 L970.88,556.15 L973.46,556.17 L976.04,556.19 L978.62,556.21 L981.21,556.23 L983.79,556.25 L986.37,556.27 L988.95,556.28 L991.53,556.30 L994.12,556.32 L996.70,556.34 L999.28,556.35 L1001.86,556.37 L1004.44,556.39 L1007.02,556.41 L1009.60,556.42" fill="none" stroke="#ff0000" stroke-width="4.0" stroke-dasharray="15.4 20.9" stroke-dashoffset="1.6" stroke-linejoin="round"/>
<path d="M120.66,727.91 L123.17,726.89 L125.59,725.75 L127.91,724.49 L130.14,723.13 L132.29,721.67 L134.36,720.11 L136.34,718.47 L138.26,716.74 L140.10,714.93 L141.87,713.04 L143.59,711.09 L145.24,709.08 L146.85,707.01 L148.40,704.89 L149.90,702.73 L151.36,700.52 L152.78,698.28 L154.17,696.02 L155.53,693.73 L156.86,691.42 L158.17,689.10 L159.45,686.77 L160.72,684.44 L161.97,682.09 L163.19,679.74 L164.41,677.37 L165.60,675.00 L166.78,672.63 L167.95,670.24 L169.10,667.85 L170.24,665.46 L171.37,663.06 L172.49,660.66 L173.59,658.25 L174.70,655.84 L175.79,653.43 L176.88,651.02 L177.96,648.60 L179.04,646.18 L180.12,643.77 L181.19,641.35 L182.26,638.93 L183.33,636.51 L184.40,634.10 L185.46,631.68 L186.53,629.26 L187.59,626.84 L188.65,624.43 L189.72,622.01 L190.78,619.59 L191.84,617.17 L192.90,614.76 L193.95,612.34 L195.01,609.93 L196.07,607.51 L197.13,605.09 L198.19,602.68 L199.24,600.26 L200.30,597.85 L201.36,595.43 L202.42,593.02 L203.48,590.61 L204.55,588.19 L205.61,585.78 L206.67,583.37 L207.74,580.96 L208.80,578.54 L209.87,576.13 L210.94,573.72 L212.02,571.31 L213.09,568.90 L214.17,566.49 L215.25,564.09 L216.33,561.68 L217.41,559.27 L218.50,556.87 L219.59,554.46 L220.68,552.05 L221.77,549.65 L222.87,547.24 L223.96,544.84 L225.06,542.43 L226.16,540.03 L227.26,537.62 L228.36,535.22 L229.46,532.81 L230.55,530.40 L231.65,527.99 L232.75,525.59 L233.84,523.18 L234.94,520.76 L236.03,518.35 L237.12,515.94 L238.21,513.52 L239.29,511.10 L240.38,508.68 L241.45,506.26 L242.53,503.84 L243.60,501.41 L244.67,498.98 L245.73,496.55 L246.79,494.12 L247.84,491.68 L248.89,489.24 L249.93,486.80 L250.97,484.35 L252.00,481.90 L253.03,479.45 L254.06,477.00 L255.08,474.55 L256.11,472.10 L257.14,469.65 L258.17,467.21 L259.20,464.76 L260.25,462.32 L261.30,459.89 L262.36,457.46 L263.43,455.04 L264.51,452.63 L265.60,450.22 L266.71,447.83 L267.84,445.44 L268.98,443.07 L270.14,440.70 L271.33,438.35 L272.53,436.02 L273.75,433.69 L275.00,431.38 L276.26,429.08 L277.54,426.79 L278.84,424.51 L280.15,422.24 L281.47,419.97 L282.80,417.71 L284.15,415.46 L285.50,413.21 L286.86,410.96 L288.23,408.72 L289.60,406.47 L290.97,404.23 L292.35,401.98 L293.72,399.74 L295.10,397.49 L296.47,395.24 L297.85,392.98 L299.23,390.73 L300.60,388.48 L301.98,386.22 L303.37,383.96 L304.75,381.71 L306.13,379.45 L307.52,377.20 L308.91,374.94 L310.31,372.69 L311.71,370.44 L313.11,368.19 L314.52,365.94 L315.93,363.70 L317.34,361.45 L318.76,359.21 L320.19,356.98 L321.62,354.75 L323.06,352.52 L324.51,350.29 L325.96,348.07 L327.42,345.86 L328.89,343.65 L330.37,341.45 L331.85,339.25 L333.34,337.06 L334.84,334.87 L336.35,332.69 L337.87,330.52 L339.40,328.36 L340.94,326.20 L342.49,324.05 L344.05,321.91 L345.62,319.78 L347.20,317.66 L348.80,315.55 L350.41,313.44 L352.02,311.35 L353.66,309.27 L355.30,307.20 L356.96,305.13 L358.63,303.08 L360.32,301.04 L362.02,299.02 L363.73,297.00 L365.46,295.00 L367.20,293.00 L368.95,291.02 L370.72,289.06 L372.50,287.10 L374.29,285.15 L376.10,283.22 L377.92,281.30 L379.75,279.39 L381.60,277.50 L383.46,275.61 L385.33,273.74 L387.21,271.88 L389.11,270.04 L391.02,268.21 L392.94,266.39 L394.87,264.58 L396.81,262.78 L398.77,261.00 L400.74,259.23 L402.72,257.48 L404.71,255.74 L406.71,254.01 L408.72,252.29 L410.75,250.59 L412.78,248.90 L414.83,247.22 L416.89,245.56 L418.96,243.91 L421.04,242.28 L423.13,240.66 L425.23,239.05 L427.34,237.46 L429.46,235.88 L431.59,234.31 L433.74,232.76 L435.89,231.22 L438.05,229.70 L440.22,228.19 L442.40,226.70 L444.59,225.22 L446.80,223.75 L449.01,222.30 L451.22,220.87 L453.45,219.45 L455.69,218.04 L457.94,216.65 L460.19,215.27 L462.46,213.91 L464.73,212.57 L467.01,211.23 L469.30,209.92 L471.60,208.62 L473.90,207.33 L476.22,206.06 L478.54,204.81 L480.87,203.57 L483.21,202.35 L485.56,201.14 L487.91,199.95 L490.27,198.77 L492.64,197.61 L495.02,196.47 L497.40,195.34 L499.79,194.23 L502.19,193.13 L504.60,192.05 L507.01,190.99 L509.42,189.94 L511.85,188.91 L514.28,187.90 L516.72,186.90 L519.16,185.92 L521.61,184.96 L524.07,184.01 L526.53,183.08 L529.00,182.16 L531.47,181.27 L533.95,180.39 L536.44,179.52 L538.93,178.68 L541.43,177.84 L543.93,177.03 L546.44,176.23 L548.95,175.44 L551.47,174.67 L553.99,173.92 L556.52,173.18 L559.05,172.45 L561.59,171.74 L564.13,171.05 L566.67,170.36 L569.23,169.70 L571.78,169.04 L574.34,168.40 L576.90,167.78 L579.47,167.16 L582.04,166.56 L584.62,165.97 L587.20,165.40 L589.78,164.84 L592.37,164.29 L594.96,163.75 L597.55,163.22 L600.15,162.71 L602.75,162.21 L605.35,161.72 L607.96,161.24 L610.57,160.77 L613.18,160.31 L615.80,159.87 L618.41,159.43 L621.03,159.01 L623.66,158.59 L626.28,158.19 L628.91,157.79 L631.54,157.41 L634.17,157.03 L636.81,156.67 L639.45,156.31 L642.08,155.96 L644.72,155.62 L647.37,155.29 L650.01,154.97 L652.66,154.66 L655.30,154.36 L657.95,154.06 L660.60,153.77 L663.25,153.49 L665.90,153.21 L668.55,152.95 L671.21,152.69 L673.86,152.43 L676.52,152.19 L679.17,151.95 L681.83,151.72 L684.49,151.49 L687.14,151.27 L689.80,151.05 L692.46,150.84 L695.12,150.64 L697.77,150.44 L700.43,150.25 L703.09,150.06 L705.74,149.88 L708.40,149.70 L711.06,149.53 L713.71,149.36 L716.37,149.19 L719.02,149.03 L721.68,148.87 L724.33,148.72 L726.98,148.56 L729.63,148.42 L732.28,148.27 L734.93,148.13 L737.58,147.99 L740.22,147.86 L742.87,147.73 L745.52,147.60 L748.16,147.48 L750.81,147.35 L753.45,147.24 L756.09,147.12 L758.73,147.01 L761.37,146.90 L764.01,146.79 L766.65,146.69 L769.29,146.59 L771.93,146.49 L774.57,146.40 L777.21,146.31 L779.84,146.22 L782.48,146.13 L785.12,146.05 L787.75,145.97 L790.39,145.89 L793.02,145.82 L795.65,145.74 L798.29,145.67 L800.92,145.61 L803.55,145.54 L806.19,145.48 L808.82,145.42 L811.45,145.37 L814.08,145.31 L816.72,145.26 L819.35,145.21 L821.98,145.16 L824.61,145.12 L827.24,145.07 L829.87,145.03 L832.50,145.00 L835.13,144.96 L837.76,144.93 L840.39,144.89 L843.02,144.86 L845.65,144.84 L848.28,144.81 L850.91,144.79 L853.54,144.77 L856.17,144.75 L858.81,144.73 L861.44,144.71 L864.07,144.70 L866.70,144.69 L869.33,144.68 L871.96,144.67 L874.59,144.66 L877.22,144.66 L879.86,144.65 L882.49,144.65 L885.12,144.65 L887.75,144.65 L890.39,144.66 L893.02,144.66 L895.66,144.67 L898.29,144.67 L900.93,144.68 L903.56,144.69 L906.20,144.70 L908.83,144.72 L911.47,144.73 L914.11,144.75 L916.75,144.76 L919.39,144.78 L922.03,144.80 L924.67,144.82 L927.31,144.84 L929.95,144.87 L932.59,144.89 L935.23,144.92 L937.88,144.94 L940.52,144.97 L943.16,145.00 L945.81,145.02 L948.46,145.05 L951.10,145.08 L953.75,145.12 L956.40,145.15 L959.05,145.18 L961.70,145.21 L964.36,145.25 L967.01,145.28 L969.66,145.32 L972.32,145.35 L974.97,145.39 L977.63,145.43 L980.29,145.47 L982.95,145.50 L985.61,145.54 L988.27,145.58 L990.93,145.62 L993.60,145.66 L996.26,145.70 L998.93,145.74 L1001.60,145.78 L1004.26,145.82 L1006.93,145.86 L1009.61,145.91" fill="none" stroke="#0000ff" stroke-width="4.3" stroke-linejoin="round"/>
<path d="M120.65,727.91 L123.19,727.36 L125.63,726.68 L127.97,725.85 L130.22,724.90 L132.38,723.82 L134.46,722.64 L136.46,721.34 L138.39,719.95 L140.26,718.46 L142.05,716.89 L143.79,715.23 L145.48,713.51 L147.11,711.72 L148.70,709.88 L150.24,707.98 L151.76,706.04 L153.23,704.07 L154.68,702.06 L156.11,700.04 L157.52,697.99 L158.92,695.94 L160.30,693.88 L161.67,691.82 L163.02,689.74 L164.37,687.66 L165.70,685.57 L167.02,683.48 L168.33,681.37 L169.63,679.27 L170.93,677.15 L172.21,675.04 L173.49,672.91 L174.76,670.79 L176.02,668.66 L177.28,666.52 L178.53,664.38 L179.77,662.24 L181.01,660.10 L182.25,657.95 L183.48,655.80 L184.71,653.65 L185.93,651.49 L187.15,649.34 L188.36,647.18 L189.57,645.01 L190.78,642.85 L191.98,640.69 L193.18,638.52 L194.38,636.35 L195.57,634.18 L196.77,632.01 L197.96,629.84 L199.14,627.67 L200.33,625.50 L201.52,623.32 L202.70,621.15 L203.88,618.98 L205.06,616.80 L206.25,614.63 L207.43,612.46 L208.61,610.28 L209.79,608.11 L210.97,605.94 L212.15,603.77 L213.33,601.60 L214.51,599.43 L215.69,597.26 L216.88,595.10 L218.06,592.94 L219.25,590.77 L220.44,588.61 L221.63,586.46 L222.83,584.30 L224.02,582.15 L225.22,580.00 L226.42,577.85 L227.62,575.70 L228.83,573.56 L230.04,571.42 L231.25,569.28 L232.47,567.14 L233.68,565.01 L234.90,562.87 L236.13,560.74 L237.35,558.61 L238.58,556.49 L239.82,554.37 L241.05,552.24 L242.29,550.12 L243.54,548.01 L244.78,545.89 L246.03,543.78 L247.29,541.67 L248.54,539.56 L249.80,537.45 L251.07,535.35 L252.33,533.25 L253.61,531.15 L254.88,529.05 L256.16,526.95 L257.44,524.86 L258.73,522.77 L260.02,520.68 L261.32,518.59 L262.62,516.50 L263.92,514.42 L265.23,512.33 L266.54,510.25 L267.86,508.17 L269.18,506.10 L270.50,504.02 L271.83,501.95 L273.17,499.87 L274.51,497.80 L275.85,495.74 L277.20,493.67 L278.55,491.61 L279.91,489.54 L281.27,487.48 L282.64,485.42 L284.01,483.37 L285.39,481.31 L286.78,479.26 L288.17,477.21 L289.56,475.17 L290.97,473.13 L292.37,471.09 L293.79,469.05 L295.21,467.02 L296.64,465.00 L298.07,462.98 L299.51,460.96 L300.96,458.94 L302.41,456.94 L303.87,454.93 L305.34,452.94 L306.82,450.94 L308.30,448.96 L309.79,446.98 L311.29,445.00 L312.79,443.03 L314.31,441.07 L315.83,439.12 L317.36,437.17 L318.90,435.23 L320.45,433.30 L322.00,431.37 L323.57,429.45 L325.14,427.54 L326.73,425.64 L328.32,423.74 L329.92,421.86 L331.53,419.98 L333.15,418.11 L334.78,416.25 L336.42,414.40 L338.06,412.56 L339.72,410.72 L341.39,408.90 L343.06,407.08 L344.75,405.27 L346.44,403.47 L348.14,401.68 L349.85,399.90 L351.57,398.13 L353.30,396.37 L355.04,394.61 L356.78,392.87 L358.54,391.13 L360.30,389.40 L362.07,387.68 L363.85,385.97 L365.64,384.27 L367.44,382.58 L369.24,380.90 L371.05,379.22 L372.87,377.56 L374.70,375.90 L376.54,374.26 L378.38,372.62 L380.24,370.99 L382.10,369.37 L383.97,367.76 L385.84,366.16 L387.73,364.57 L389.62,362.99 L391.52,361.41 L393.43,359.85 L395.34,358.29 L397.27,356.75 L399.20,355.21 L401.13,353.69 L403.08,352.17 L405.03,350.66 L406.99,349.16 L408.96,347.67 L410.93,346.19 L412.91,344.72 L414.90,343.26 L416.89,341.81 L418.89,340.37 L420.90,338.94 L422.92,337.51 L424.94,336.10 L426.97,334.70 L429.00,333.30 L431.04,331.92 L433.09,330.54 L435.15,329.18 L437.21,327.82 L439.28,326.48 L441.35,325.14 L443.43,323.82 L445.52,322.50 L447.61,321.19 L449.71,319.90 L451.82,318.61 L453.93,317.33 L456.04,316.06 L458.17,314.81 L460.30,313.56 L462.43,312.32 L464.57,311.09 L466.72,309.87 L468.87,308.67 L471.03,307.47 L473.19,306.28 L475.36,305.10 L477.53,303.93 L479.71,302.77 L481.90,301.63 L484.09,300.49 L486.29,299.36 L488.49,298.24 L490.69,297.13 L492.90,296.04 L495.12,294.95 L497.34,293.87 L499.57,292.81 L501.80,291.75 L504.04,290.70 L506.28,289.67 L508.52,288.64 L510.77,287.62 L513.03,286.62 L515.29,285.62 L517.55,284.64 L519.82,283.66 L522.09,282.70 L524.37,281.75 L526.65,280.80 L528.94,279.87 L531.23,278.95 L533.52,278.03 L535.82,277.13 L538.12,276.24 L540.43,275.36 L542.74,274.49 L545.05,273.63 L547.37,272.78 L549.70,271.95 L552.02,271.12 L554.35,270.30 L556.68,269.49 L559.02,268.70 L561.36,267.91 L563.71,267.14 L566.05,266.38 L568.40,265.62 L570.76,264.88 L573.12,264.15 L575.48,263.43 L577.84,262.72 L580.21,262.02 L582.58,261.33 L584.95,260.65 L587.33,259.98 L589.71,259.33 L592.09,258.68 L594.47,258.04 L596.86,257.41 L599.25,256.79 L601.65,256.18 L604.04,255.58 L606.44,254.99 L608.84,254.40 L611.25,253.83 L613.65,253.27 L616.06,252.71 L618.47,252.16 L620.88,251.63 L623.30,251.10 L625.72,250.57 L628.14,250.06 L630.56,249.56 L632.98,249.06 L635.41,248.57 L637.84,248.09 L640.27,247.61 L642.70,247.15 L645.13,246.69 L647.57,246.24 L650.00,245.79 L652.44,245.36 L654.88,244.93 L657.32,244.50 L659.77,244.09 L662.21,243.68 L664.66,243.27 L667.11,242.88 L669.55,242.48 L672.00,242.10 L674.46,241.72 L676.91,241.35 L679.36,240.98 L681.82,240.62 L684.27,240.27 L686.73,239.92 L689.19,239.57 L691.64,239.23 L694.10,238.90 L696.56,238.57 L699.02,238.25 L701.48,237.93 L703.95,237.61 L706.41,237.31 L708.87,237.00 L711.34,236.70 L713.80,236.40 L716.26,236.11 L718.73,235.82 L721.19,235.54 L723.66,235.26 L726.12,234.98 L728.59,234.71 L731.05,234.44 L733.52,234.17 L735.99,233.91 L738.45,233.65 L740.92,233.39 L743.38,233.14 L745.85,232.89 L748.31,232.64 L750.77,232.39 L753.24,232.15 L755.70,231.91 L758.16,231.67 L760.63,231.43 L763.09,231.20 L765.55,230.97 L768.01,230.74 L770.47,230.51 L772.93,230.29 L775.39,230.07 L777.85,229.85 L780.31,229.63 L782.77,229.42 L785.23,229.20 L787.69,228.99 L790.15,228.79 L792.61,228.58 L795.07,228.38 L797.53,228.18 L799.98,227.98 L802.44,227.79 L804.90,227.59 L807.36,227.40 L809.81,227.22 L812.27,227.03 L814.73,226.85 L817.18,226.67 L819.64,226.49 L822.10,226.31 L824.55,226.14 L827.01,225.97 L829.47,225.80 L831.92,225.64 L834.38,225.47 L836.84,225.31 L839.29,225.16 L841.75,225.00 L844.21,224.85 L846.66,224.70 L849.12,224.55 L851.58,224.41 L854.04,224.26 L856.49,224.12 L858.95,223.99 L861.41,223.85 L863.86,223.72 L866.32,223.59 L868.78,223.46 L871.24,223.34 L873.70,223.22 L876.16,223.10 L878.61,222.98 L881.07,222.87 L883.53,222.75 L885.99,222.65 L888.45,222.54 L890.91,222.44 L893.37,222.33 L895.83,222.24 L898.29,222.14 L900.75,222.05 L903.22,221.96 L905.68,221.87 L908.14,221.78 L910.60,221.70 L913.07,221.62 L915.53,221.55 L918.00,221.47 L920.46,221.40 L922.93,221.33 L925.39,221.27 L927.86,221.20 L930.32,221.14 L932.79,221.08 L935.26,221.03 L937.73,220.98 L940.20,220.93 L942.67,220.88 L945.14,220.83 L947.61,220.79 L950.08,220.75 L952.55,220.72 L955.02,220.68 L957.49,220.65 L959.97,220.63 L962.44,220.60 L964.92,220.58 L967.39,220.56 L969.87,220.54 L972.35,220.53 L974.83,220.52 L977.30,220.51 L979.78,220.50 L982.26,220.50 L984.75,220.50 L987.23,220.51 L989.71,220.51 L992.19,220.52 L994.68,220.53 L997.16,220.55 L999.65,220.56 L1002.14,220.58 L1004.62,220.61 L1007.11,220.63 L1009.60,220.66" fill="none" stroke="#0000ff" stroke-width="4.0" stroke-dasharray="15.4 20.9" stroke-dashoffset="1.6" stroke-linejoin="round"/>
</g>
<rect x="687.8" y="36.9" width="302.8" height="310.8" fill="#fff" stroke="#333" stroke-width="1.3"/>
<rect x="715.40" y="49.20" width="16" height="16" fill="#505050"/>
<circle cx="723.40" cy="92.40" r="8.8" fill="#ef4040"/>
<polygon points="723.40,114.95 734.01,133.32 712.79,133.32" fill="#1f6fe0"/>
<polygon points="723.40,181.05 734.01,162.68 712.79,162.68" fill="#3aaa6a"/>
<circle cx="723.40" cy="210.70" r="7.9" fill="#fff" stroke="#404040" stroke-width="1.5"/>
<circle cx="723.40" cy="245.80" r="7.9" fill="#fff" stroke="#ff0000" stroke-width="1.5"/>
<polygon points="723.40,269.95 732.97,286.52 713.83,286.52" fill="#fff" stroke="#0000ff" stroke-width="1.5" stroke-linejoin="miter"/>
<polygon points="723.40,333.45 732.97,316.88 713.83,316.88" fill="#fff" stroke="#008000" stroke-width="1.5" stroke-linejoin="miter"/>
<text x="762.7" y="67.2" class="lg">n butane (no Cat)</text>
<text x="762.7" y="102.4" class="lg">CO (no Cat)</text>
<text x="762.7" y="137.2" class="lg">CO<tspan font-size="19.5" dy="7.6">2</tspan><tspan dy="-7.6"> (no Cat)</tspan></text>
<text x="762.7" y="178.8" class="lg">CH<tspan font-size="19.5" dy="7.6">4</tspan><tspan dy="-7.6"> (no Cat)</tspan></text>
<text x="762.7" y="220.7" class="lg">n butane (Cat)</text>
<text x="762.7" y="255.8" class="lg">CO (cat)</text>
<text x="762.7" y="291" class="lg">CO<tspan font-size="19.5" dy="7.6">2</tspan><tspan dy="-7.6"> (Cat)</tspan></text>
<text x="762.7" y="332.4" class="lg">CH<tspan font-size="19.5" dy="7.6">4</tspan><tspan dy="-7.6"> (Cat)</tspan></text>
<text x="474.4" y="824" class="at">P<tspan font-size="25" dy="9" dx="1.8">plasma</tspan></text>
<text transform="translate(592.2,824) scale(1.035,1)" class="at">(W)</text>
<text transform="translate(30.6,516.1) rotate(-90)" class="at">concentration (%)</text>
<text transform="translate(181.19,140.32) scale(0.656,1)" style="font-size:68.99px" stroke="#000" stroke-width="1.6" stroke-linejoin="round">(</text>
<text transform="translate(203.26,141.75) scale(0.787,1)" style="font-size:64.78px" stroke="#000" stroke-width="1.6" stroke-linejoin="round">a</text>
<text transform="translate(242.72,140.32) scale(0.684,1)" style="font-size:68.99px" stroke="#000" stroke-width="1.6" stroke-linejoin="round">)</text>
<clipPath id="cb"><rect x="117.1" y="885.6" width="890.3" height="716.6"/></clipPath>
<path d="M166.53,1601.2v-7.2M166.53,885.6v7.2M215.97,1601.2v-14.2M215.97,885.6v14.2M265.40,1601.2v-7.2M265.40,885.6v7.2M314.83,1601.2v-14.2M314.83,885.6v14.2M364.27,1601.2v-7.2M364.27,885.6v7.2M413.70,1601.2v-14.2M413.70,885.6v14.2M463.13,1601.2v-7.2M463.13,885.6v7.2M512.57,1601.2v-14.2M512.57,885.6v14.2M562.00,1601.2v-7.2M562.00,885.6v7.2M611.43,1601.2v-14.2M611.43,885.6v14.2M660.87,1601.2v-7.2M660.87,885.6v7.2M710.30,1601.2v-14.2M710.30,885.6v14.2M759.73,1601.2v-7.2M759.73,885.6v7.2M809.17,1601.2v-14.2M809.17,885.6v14.2M858.60,1601.2v-7.2M858.60,885.6v7.2M908.03,1601.2v-14.2M908.03,885.6v14.2M957.47,1601.2v-7.2M957.47,885.6v7.2M117.1,1550.09h7.2M1006.9,1550.09h-7.2M117.1,1498.97h14.2M1006.9,1498.97h-14.2M117.1,1447.86h7.2M1006.9,1447.86h-7.2M117.1,1396.74h14.2M1006.9,1396.74h-14.2M117.1,1345.63h7.2M1006.9,1345.63h-7.2M117.1,1294.51h14.2M1006.9,1294.51h-14.2M117.1,1243.40h7.2M1006.9,1243.40h-7.2M117.1,1192.29h14.2M1006.9,1192.29h-14.2M117.1,1141.17h7.2M1006.9,1141.17h-7.2M117.1,1090.06h14.2M1006.9,1090.06h-14.2M117.1,1038.94h7.2M1006.9,1038.94h-7.2M117.1,987.83h14.2M1006.9,987.83h-14.2M117.1,936.71h7.2M1006.9,936.71h-7.2" stroke="#000" stroke-width="2.6" fill="none"/>
<text x="117.10" y="1640.20" text-anchor="middle" class="tl">0</text>
<text x="215.97" y="1640.20" text-anchor="middle" class="tl">2</text>
<text x="314.83" y="1640.20" text-anchor="middle" class="tl">4</text>
<text x="413.70" y="1640.20" text-anchor="middle" class="tl">6</text>
<text x="512.57" y="1640.20" text-anchor="middle" class="tl">8</text>
<text x="611.43" y="1640.20" text-anchor="middle" class="tl">10</text>
<text x="710.30" y="1640.20" text-anchor="middle" class="tl">12</text>
<text x="809.17" y="1640.20" text-anchor="middle" class="tl">14</text>
<text x="908.03" y="1640.20" text-anchor="middle" class="tl">16</text>
<text x="1006.90" y="1640.20" text-anchor="middle" class="tl">18</text>
<text x="102.50" y="1610.80" text-anchor="end" class="tl">0.00</text>
<text x="102.50" y="1508.57" text-anchor="end" class="tl">0.05</text>
<text x="102.50" y="1406.34" text-anchor="end" class="tl">0.10</text>
<text x="102.50" y="1304.11" text-anchor="end" class="tl">0.15</text>
<text x="102.50" y="1201.89" text-anchor="end" class="tl">0.20</text>
<text x="102.50" y="1099.66" text-anchor="end" class="tl">0.25</text>
<text x="102.50" y="997.43" text-anchor="end" class="tl">0.30</text>
<text x="102.50" y="895.20" text-anchor="end" class="tl">0.35</text>
<rect x="117.1" y="885.6" width="889.80" height="715.60" fill="none" stroke="#000" stroke-width="2.8"/>
<g clip-path="url(#cb)">
<path d="M117.11,1432.39 L118.01,1434.30 L118.92,1436.20 L119.84,1438.10 L120.78,1440.00 L121.73,1441.89 L122.69,1443.78 L123.67,1445.66 L124.66,1447.53 L125.67,1449.40 L126.69,1451.27 L127.72,1453.12 L128.77,1454.97 L129.83,1456.81 L130.91,1458.65 L132.00,1460.47 L133.10,1462.29 L134.22,1464.10 L135.35,1465.91 L136.49,1467.70 L137.65,1469.49 L138.83,1471.26 L140.01,1473.03 L141.21,1474.78 L142.43,1476.53 L143.66,1478.26 L144.90,1479.99 L146.15,1481.70 L147.43,1483.41 L148.71,1485.10 L150.01,1486.78 L151.32,1488.45 L152.65,1490.11 L153.99,1491.75 L155.34,1493.38 L156.71,1495.00 L158.09,1496.61 L159.49,1498.20 L160.90,1499.78 L162.32,1501.34 L163.76,1502.89 L165.21,1504.43 L166.67,1505.95 L168.15,1507.45 L169.65,1508.94 L171.15,1510.42 L172.68,1511.88 L174.21,1513.32 L175.76,1514.75 L177.32,1516.17 L178.89,1517.57 L180.48,1518.95 L182.08,1520.32 L183.69,1521.67 L185.32,1523.00 L186.96,1524.32 L188.61,1525.63 L190.27,1526.92 L191.94,1528.19 L193.62,1529.45 L195.32,1530.69 L197.03,1531.92 L198.75,1533.13 L200.48,1534.33 L202.22,1535.50 L203.97,1536.67 L205.73,1537.81 L207.50,1538.95 L209.29,1540.06 L211.08,1541.16 L212.88,1542.24 L214.69,1543.31 L216.52,1544.36 L218.35,1545.40 L220.19,1546.42 L222.04,1547.42 L223.90,1548.41 L225.77,1549.38 L227.64,1550.33 L229.53,1551.27 L231.42,1552.19 L233.32,1553.10 L235.23,1553.99 L237.15,1554.86 L239.08,1555.72 L241.01,1556.56 L242.95,1557.38 L244.90,1558.19 L246.85,1558.98 L248.82,1559.76 L250.78,1560.52 L252.76,1561.27 L254.74,1562.00 L256.72,1562.72 L258.71,1563.42 L260.71,1564.11 L262.71,1564.79 L264.72,1565.46 L266.73,1566.11 L268.74,1566.75 L270.76,1567.37 L272.78,1567.99 L274.81,1568.59 L276.83,1569.18 L278.87,1569.76 L280.90,1570.33 L282.94,1570.89 L284.98,1571.43 L287.02,1571.97 L289.06,1572.50 L291.11,1573.01 L293.16,1573.52 L295.21,1574.01 L297.27,1574.50 L299.33,1574.98 L301.38,1575.44 L303.45,1575.90 L305.51,1576.35 L307.58,1576.79 L309.64,1577.22 L311.71,1577.64 L313.79,1578.05 L315.86,1578.45 L317.93,1578.85 L320.01,1579.23 L322.09,1579.61 L324.17,1579.98 L326.26,1580.34 L328.34,1580.70 L330.43,1581.04 L332.52,1581.38 L334.61,1581.72 L336.70,1582.04 L338.79,1582.36 L340.88,1582.67 L342.98,1582.97 L345.08,1583.27 L347.18,1583.56 L349.28,1583.85 L351.38,1584.12 L353.48,1584.40 L355.58,1584.66 L357.69,1584.92 L359.79,1585.18 L361.90,1585.43 L364.01,1585.67 L366.12,1585.91 L368.23,1586.14 L370.34,1586.37 L372.45,1586.59 L374.56,1586.81 L376.67,1587.03 L378.79,1587.24 L380.90,1587.44 L383.01,1587.64 L385.13,1587.84 L387.25,1588.03 L389.36,1588.22 L391.48,1588.41 L393.60,1588.59 L395.71,1588.77 L397.83,1588.95 L399.95,1589.12 L402.07,1589.29 L404.19,1589.46 L406.31,1589.62 L408.43,1589.78 L410.55,1589.94 L412.67,1590.10 L414.78,1590.26 L416.90,1590.41 L419.02,1590.56 L421.14,1590.71 L423.26,1590.86 L425.38,1591.01 L427.50,1591.15 L429.62,1591.30 L431.74,1591.44 L433.85,1591.58 L435.97,1591.72 L438.09,1591.85 L440.21,1591.99 L442.33,1592.12 L444.45,1592.26 L446.56,1592.39 L448.68,1592.51 L450.80,1592.64 L452.92,1592.77 L455.03,1592.89 L457.15,1593.01 L459.27,1593.14 L461.38,1593.25 L463.50,1593.37 L465.62,1593.49 L467.74,1593.60 L469.85,1593.72 L471.97,1593.83 L474.09,1593.94 L476.20,1594.05 L478.32,1594.16 L480.44,1594.26 L482.55,1594.37 L484.67,1594.47 L486.78,1594.57 L488.90,1594.67 L491.02,1594.77 L493.13,1594.87 L495.25,1594.97 L497.36,1595.06 L499.48,1595.15 L501.60,1595.25 L503.71,1595.34 L505.83,1595.43 L507.94,1595.52 L510.06,1595.60 L512.17,1595.69 L514.29,1595.77 L516.40,1595.85 L518.52,1595.94 L520.63,1596.02 L522.75,1596.10 L524.86,1596.17 L526.98,1596.25 L529.09,1596.33 L531.21,1596.40 L533.32,1596.47 L535.44,1596.55 L537.55,1596.62 L539.66,1596.69 L541.78,1596.75 L543.89,1596.82 L546.01,1596.89 L548.12,1596.95 L550.24,1597.01 L552.35,1597.08 L554.46,1597.14 L556.58,1597.20 L558.69,1597.26 L560.80,1597.32 L562.92,1597.37 L565.03,1597.43 L567.15,1597.48 L569.26,1597.54 L571.37,1597.59 L573.49,1597.64 L575.60,1597.69 L577.71,1597.74 L579.83,1597.79 L581.94,1597.84 L584.05,1597.89 L586.17,1597.93 L588.28,1597.98 L590.39,1598.02 L592.51,1598.06 L594.62,1598.10 L596.73,1598.15 L598.85,1598.19 L600.96,1598.23 L603.07,1598.26 L605.18,1598.30 L607.30,1598.34 L609.41,1598.37 L611.52,1598.41 L613.64,1598.44 L615.75,1598.47 L617.86,1598.51 L619.97,1598.54 L622.09,1598.57 L624.20,1598.60 L626.31,1598.63 L628.43,1598.66 L630.54,1598.68 L632.65,1598.71 L634.76,1598.74 L636.88,1598.76 L638.99,1598.78 L641.10,1598.81 L643.21,1598.83 L645.33,1598.85 L647.44,1598.87 L649.55,1598.90 L651.66,1598.92 L653.78,1598.93 L655.89,1598.95 L658.00,1598.97 L660.11,1598.99 L662.22,1599.01 L664.34,1599.02 L666.45,1599.04 L668.56,1599.05 L670.67,1599.07 L672.79,1599.08 L674.90,1599.09 L677.01,1599.11 L679.12,1599.12 L681.24,1599.13 L683.35,1599.14 L685.46,1599.15 L687.57,1599.16 L689.68,1599.17 L691.80,1599.18 L693.91,1599.19 L696.02,1599.20 L698.13,1599.20 L700.25,1599.21 L702.36,1599.22 L704.47,1599.22 L706.58,1599.23 L708.70,1599.23 L710.81,1599.24 L712.92,1599.24 L715.03,1599.25 L717.14,1599.25 L719.26,1599.25 L721.37,1599.25 L723.48,1599.26 L725.59,1599.26 L727.71,1599.26 L729.82,1599.26 L731.93,1599.26 L734.04,1599.26 L736.16,1599.26 L738.27,1599.26 L740.38,1599.26 L742.49,1599.26 L744.61,1599.26 L746.72,1599.26 L748.83,1599.26 L750.94,1599.26 L753.06,1599.26 L755.17,1599.25 L757.28,1599.25 L759.39,1599.25 L761.51,1599.25 L763.62,1599.24 L765.73,1599.24 L767.85,1599.24 L769.96,1599.23 L772.07,1599.23 L774.18,1599.23 L776.30,1599.22 L778.41,1599.22 L780.52,1599.22 L782.64,1599.21 L784.75,1599.21 L786.86,1599.20 L788.98,1599.20 L791.09,1599.19 L793.20,1599.19 L795.32,1599.18 L797.43,1599.18 L799.54,1599.18 L801.66,1599.17 L803.77,1599.17 L805.88,1599.16 L808.00,1599.16 L810.11,1599.15 L812.22,1599.15 L814.34,1599.14 L816.45,1599.14 L818.57,1599.13 L820.68,1599.13 L822.79,1599.13 L824.91,1599.12 L827.02,1599.12 L829.14,1599.11 L831.25,1599.11 L833.36,1599.11 L835.48,1599.10 L837.59,1599.10 L839.71,1599.09 L841.82,1599.09 L843.94,1599.09 L846.05,1599.09 L848.17,1599.08 L850.28,1599.08 L852.39,1599.08 L854.51,1599.08 L856.62,1599.07 L858.74,1599.07 L860.85,1599.07 L862.97,1599.07 L865.08,1599.07 L867.20,1599.07 L869.31,1599.07 L871.43,1599.07 L873.55,1599.07 L875.66,1599.07 L877.78,1599.07 L879.89,1599.07 L882.01,1599.07 L884.12,1599.07 L886.24,1599.08 L888.36,1599.08 L890.47,1599.08 L892.59,1599.09 L894.70,1599.09 L896.82,1599.09 L898.94,1599.10 L901.05,1599.10 L903.17,1599.11 L905.29,1599.12 L907.40,1599.12 L909.52,1599.13 L911.64,1599.14 L913.75,1599.14 L915.87,1599.15 L917.99,1599.16 L920.11,1599.17 L922.22,1599.18 L924.34,1599.19 L926.46,1599.20 L928.58,1599.21 L930.69,1599.22 L932.81,1599.24 L934.93,1599.25 L937.05,1599.26 L939.17,1599.28 L941.28,1599.29 L943.40,1599.31 L945.52,1599.32 L947.64,1599.34 L949.76,1599.36 L951.88,1599.38 L953.99,1599.40 L956.11,1599.41 L958.23,1599.43 L960.35,1599.46 L962.47,1599.48 L964.59,1599.50 L966.71,1599.52 L968.83,1599.54 L970.95,1599.57 L973.07,1599.59 L975.19,1599.62 L977.31,1599.65 L979.43,1599.67 L981.55,1599.70 L983.67,1599.73 L985.79,1599.76 L987.91,1599.79 L990.03,1599.82 L992.15,1599.85 L994.27,1599.89 L996.39,1599.92 L998.52,1599.96 L1000.64,1599.99 L1002.76,1600.03 L1004.88,1600.06 L1007.00,1600.10" fill="none" stroke="#ff8000" stroke-width="4.3" stroke-linejoin="round"/>
<path d="M117.11,1431.16 L118.01,1433.07 L118.92,1434.98 L119.84,1436.88 L120.77,1438.78 L121.72,1440.67 L122.69,1442.56 L123.67,1444.44 L124.66,1446.32 L125.66,1448.19 L126.68,1450.05 L127.71,1451.91 L128.76,1453.76 L129.82,1455.60 L130.89,1457.44 L131.98,1459.27 L133.08,1461.09 L134.20,1462.90 L135.33,1464.71 L136.47,1466.50 L137.63,1468.29 L138.80,1470.07 L139.98,1471.84 L141.18,1473.59 L142.39,1475.34 L143.62,1477.08 L144.86,1478.81 L146.11,1480.53 L147.38,1482.23 L148.66,1483.93 L149.96,1485.61 L151.27,1487.29 L152.59,1488.95 L153.93,1490.59 L155.28,1492.23 L156.64,1493.85 L158.02,1495.46 L159.41,1497.06 L160.82,1498.64 L162.24,1500.21 L163.68,1501.76 L165.12,1503.30 L166.59,1504.83 L168.06,1506.34 L169.55,1507.84 L171.06,1509.32 L172.57,1510.78 L174.11,1512.23 L175.65,1513.67 L177.21,1515.09 L178.78,1516.49 L180.36,1517.88 L181.96,1519.25 L183.57,1520.61 L185.19,1521.96 L186.82,1523.28 L188.47,1524.59 L190.13,1525.89 L191.80,1527.17 L193.48,1528.44 L195.17,1529.69 L196.87,1530.92 L198.59,1532.14 L200.32,1533.34 L202.05,1534.53 L203.80,1535.70 L205.56,1536.85 L207.33,1537.99 L209.11,1539.11 L210.90,1540.22 L212.70,1541.31 L214.51,1542.39 L216.33,1543.45 L218.16,1544.49 L219.99,1545.52 L221.84,1546.53 L223.70,1547.53 L225.56,1548.51 L227.44,1549.47 L229.32,1550.42 L231.21,1551.35 L233.11,1552.26 L235.01,1553.16 L236.93,1554.04 L238.85,1554.91 L240.78,1555.76 L242.72,1556.59 L244.67,1557.41 L246.62,1558.21 L248.58,1559.00 L250.54,1559.77 L252.51,1560.52 L254.49,1561.27 L256.48,1562.00 L258.46,1562.71 L260.46,1563.41 L262.46,1564.10 L264.46,1564.77 L266.47,1565.43 L268.48,1566.08 L270.50,1566.72 L272.52,1567.34 L274.54,1567.95 L276.57,1568.55 L278.60,1569.14 L280.63,1569.72 L282.67,1570.29 L284.71,1570.84 L286.75,1571.39 L288.79,1571.92 L290.84,1572.45 L292.89,1572.96 L294.94,1573.47 L296.99,1573.96 L299.05,1574.45 L301.11,1574.92 L303.17,1575.39 L305.23,1575.85 L307.29,1576.29 L309.36,1576.73 L311.43,1577.16 L313.50,1577.58 L315.57,1577.99 L317.65,1578.40 L319.73,1578.79 L321.81,1579.18 L323.89,1579.56 L325.97,1579.93 L328.05,1580.29 L330.14,1580.64 L332.23,1580.99 L334.32,1581.33 L336.41,1581.66 L338.50,1581.99 L340.59,1582.31 L342.69,1582.62 L344.79,1582.92 L346.89,1583.22 L348.99,1583.52 L351.09,1583.80 L353.19,1584.08 L355.29,1584.35 L357.40,1584.62 L359.50,1584.88 L361.61,1585.14 L363.72,1585.39 L365.82,1585.63 L367.93,1585.87 L370.05,1586.11 L372.16,1586.34 L374.27,1586.57 L376.38,1586.79 L378.50,1587.00 L380.61,1587.21 L382.73,1587.42 L384.84,1587.62 L386.96,1587.82 L389.07,1588.02 L391.19,1588.21 L393.31,1588.40 L395.43,1588.59 L397.55,1588.77 L399.66,1588.95 L401.78,1589.12 L403.90,1589.29 L406.02,1589.46 L408.14,1589.63 L410.26,1589.80 L412.38,1589.96 L414.50,1590.12 L416.62,1590.28 L418.74,1590.44 L420.86,1590.59 L422.98,1590.74 L425.10,1590.90 L427.22,1591.05 L429.34,1591.19 L431.46,1591.34 L433.58,1591.48 L435.69,1591.63 L437.81,1591.77 L439.93,1591.91 L442.05,1592.04 L444.17,1592.18 L446.29,1592.31 L448.41,1592.45 L450.52,1592.58 L452.64,1592.71 L454.76,1592.83 L456.88,1592.96 L459.00,1593.09 L461.12,1593.21 L463.23,1593.33 L465.35,1593.45 L467.47,1593.57 L469.59,1593.68 L471.70,1593.80 L473.82,1593.91 L475.94,1594.02 L478.06,1594.13 L480.17,1594.24 L482.29,1594.35 L484.41,1594.46 L486.52,1594.56 L488.64,1594.66 L490.76,1594.77 L492.87,1594.87 L494.99,1594.96 L497.11,1595.06 L499.22,1595.16 L501.34,1595.25 L503.46,1595.35 L505.57,1595.44 L507.69,1595.53 L509.81,1595.62 L511.92,1595.70 L514.04,1595.79 L516.15,1595.87 L518.27,1595.96 L520.38,1596.04 L522.50,1596.12 L524.62,1596.20 L526.73,1596.28 L528.85,1596.35 L530.96,1596.43 L533.08,1596.50 L535.19,1596.58 L537.31,1596.65 L539.43,1596.72 L541.54,1596.79 L543.66,1596.86 L545.77,1596.92 L547.89,1596.99 L550.00,1597.06 L552.12,1597.12 L554.23,1597.18 L556.35,1597.24 L558.46,1597.30 L560.58,1597.36 L562.69,1597.42 L564.81,1597.48 L566.92,1597.53 L569.03,1597.59 L571.15,1597.64 L573.26,1597.69 L575.38,1597.74 L577.49,1597.79 L579.61,1597.84 L581.72,1597.89 L583.84,1597.94 L585.95,1597.98 L588.06,1598.03 L590.18,1598.07 L592.29,1598.11 L594.41,1598.16 L596.52,1598.20 L598.64,1598.24 L600.75,1598.28 L602.86,1598.31 L604.98,1598.35 L607.09,1598.39 L609.21,1598.42 L611.32,1598.46 L613.43,1598.49 L615.55,1598.52 L617.66,1598.56 L619.78,1598.59 L621.89,1598.62 L624.00,1598.65 L626.12,1598.68 L628.23,1598.70 L630.34,1598.73 L632.46,1598.76 L634.57,1598.78 L636.69,1598.81 L638.80,1598.83 L640.91,1598.85 L643.03,1598.88 L645.14,1598.90 L647.25,1598.92 L649.37,1598.94 L651.48,1598.96 L653.59,1598.98 L655.71,1598.99 L657.82,1599.01 L659.93,1599.03 L662.05,1599.04 L664.16,1599.06 L666.28,1599.07 L668.39,1599.09 L670.50,1599.10 L672.62,1599.12 L674.73,1599.13 L676.84,1599.14 L678.96,1599.15 L681.07,1599.16 L683.18,1599.17 L685.30,1599.18 L687.41,1599.19 L689.52,1599.20 L691.64,1599.21 L693.75,1599.21 L695.86,1599.22 L697.98,1599.23 L700.09,1599.23 L702.20,1599.24 L704.32,1599.24 L706.43,1599.25 L708.54,1599.25 L710.66,1599.25 L712.77,1599.26 L714.89,1599.26 L717.00,1599.26 L719.11,1599.26 L721.23,1599.27 L723.34,1599.27 L725.45,1599.27 L727.57,1599.27 L729.68,1599.27 L731.79,1599.27 L733.91,1599.27 L736.02,1599.27 L738.13,1599.26 L740.25,1599.26 L742.36,1599.26 L744.48,1599.26 L746.59,1599.26 L748.70,1599.25 L750.82,1599.25 L752.93,1599.25 L755.05,1599.25 L757.16,1599.24 L759.27,1599.24 L761.39,1599.23 L763.50,1599.23 L765.62,1599.23 L767.73,1599.22 L769.84,1599.22 L771.96,1599.21 L774.07,1599.21 L776.19,1599.20 L778.30,1599.20 L780.41,1599.19 L782.53,1599.19 L784.64,1599.18 L786.76,1599.18 L788.87,1599.17 L790.99,1599.17 L793.10,1599.16 L795.21,1599.15 L797.33,1599.15 L799.44,1599.14 L801.56,1599.14 L803.67,1599.13 L805.79,1599.13 L807.90,1599.12 L810.02,1599.12 L812.13,1599.11 L814.25,1599.10 L816.36,1599.10 L818.48,1599.09 L820.59,1599.09 L822.71,1599.08 L824.82,1599.08 L826.94,1599.07 L829.05,1599.07 L831.17,1599.06 L833.28,1599.06 L835.40,1599.05 L837.51,1599.05 L839.63,1599.05 L841.75,1599.04 L843.86,1599.04 L845.98,1599.03 L848.09,1599.03 L850.21,1599.03 L852.32,1599.02 L854.44,1599.02 L856.56,1599.02 L858.67,1599.02 L860.79,1599.02 L862.90,1599.01 L865.02,1599.01 L867.14,1599.01 L869.25,1599.01 L871.37,1599.01 L873.49,1599.01 L875.60,1599.01 L877.72,1599.01 L879.84,1599.01 L881.95,1599.01 L884.07,1599.02 L886.19,1599.02 L888.30,1599.02 L890.42,1599.02 L892.54,1599.03 L894.66,1599.03 L896.77,1599.03 L898.89,1599.04 L901.01,1599.04 L903.13,1599.05 L905.24,1599.06 L907.36,1599.06 L909.48,1599.07 L911.60,1599.08 L913.72,1599.09 L915.83,1599.09 L917.95,1599.10 L920.07,1599.11 L922.19,1599.12 L924.31,1599.13 L926.42,1599.15 L928.54,1599.16 L930.66,1599.17 L932.78,1599.18 L934.90,1599.20 L937.02,1599.21 L939.14,1599.23 L941.26,1599.24 L943.38,1599.26 L945.50,1599.28 L947.62,1599.29 L949.73,1599.31 L951.85,1599.33 L953.97,1599.35 L956.09,1599.37 L958.21,1599.39 L960.33,1599.41 L962.45,1599.44 L964.57,1599.46 L966.69,1599.48 L968.81,1599.51 L970.94,1599.54 L973.06,1599.56 L975.18,1599.59 L977.30,1599.62 L979.42,1599.65 L981.54,1599.68 L983.66,1599.71 L985.78,1599.74 L987.90,1599.77 L990.03,1599.80 L992.15,1599.84 L994.27,1599.87 L996.39,1599.91 L998.51,1599.95 L1000.63,1599.98 L1002.76,1600.02 L1004.88,1600.06 L1007.00,1600.10" fill="none" stroke="#ff8000" stroke-width="4.0" stroke-dasharray="15.4 20.9" stroke-dashoffset="0" stroke-linejoin="round"/>
<path d="M117.11,1601.30 L117.32,1598.80 L117.54,1596.29 L117.77,1593.78 L118.02,1591.28 L118.27,1588.77 L118.54,1586.26 L118.82,1583.75 L119.11,1581.24 L119.41,1578.72 L119.72,1576.21 L120.04,1573.70 L120.38,1571.18 L120.72,1568.67 L121.07,1566.15 L121.42,1563.64 L121.79,1561.13 L122.17,1558.61 L122.55,1556.10 L122.94,1553.58 L123.34,1551.07 L123.74,1548.56 L124.15,1546.04 L124.57,1543.53 L125.00,1541.02 L125.43,1538.51 L125.86,1536.00 L126.30,1533.49 L126.74,1530.98 L127.19,1528.48 L127.65,1525.97 L128.10,1523.47 L128.56,1520.96 L129.03,1518.46 L129.50,1515.96 L129.97,1513.47 L130.44,1510.97 L130.91,1508.48 L131.39,1505.98 L131.86,1503.50 L132.34,1501.01 L132.82,1498.52 L133.30,1496.04 L133.78,1493.56 L134.26,1491.08 L134.73,1488.61 L135.21,1486.14 L135.69,1483.67 L136.17,1481.20 L136.65,1478.73 L137.14,1476.27 L137.63,1473.81 L138.11,1471.35 L138.61,1468.89 L139.10,1466.43 L139.60,1463.98 L140.11,1461.52 L140.62,1459.07 L141.14,1456.62 L141.66,1454.17 L142.19,1451.72 L142.72,1449.27 L143.27,1446.82 L143.82,1444.37 L144.38,1441.92 L144.95,1439.48 L145.52,1437.03 L146.11,1434.58 L146.71,1432.13 L147.32,1429.68 L147.94,1427.23 L148.57,1424.79 L149.21,1422.34 L149.87,1419.88 L150.54,1417.43 L151.22,1414.98 L151.91,1412.53 L152.62,1410.07 L153.35,1407.62 L154.09,1405.16 L154.84,1402.70 L155.61,1400.24 L156.40,1397.77 L157.21,1395.31 L158.03,1392.84 L158.87,1390.37 L159.73,1387.90 L160.61,1385.43 L161.51,1382.96 L162.43,1380.49 L163.38,1378.04 L164.37,1375.60 L165.38,1373.18 L166.43,1370.79 L167.52,1368.42 L168.64,1366.08 L169.81,1363.78 L171.03,1361.51 L172.29,1359.29 L173.60,1357.11 L174.96,1354.99 L176.38,1352.92 L177.86,1350.90 L179.39,1348.95 L180.99,1347.07 L182.66,1345.25 L184.39,1343.51 L186.19,1341.85 L188.06,1340.26 L189.99,1338.76 L191.98,1337.35 L194.03,1336.02 L196.13,1334.77 L198.28,1333.62 L200.47,1332.56 L202.70,1331.59 L204.98,1330.72 L207.28,1329.95 L209.62,1329.27 L211.98,1328.70 L214.36,1328.23 L216.77,1327.87 L219.18,1327.61 L221.61,1327.47 L224.05,1327.43 L226.49,1327.51 L228.93,1327.70 L231.37,1328.01 L233.81,1328.43 L236.23,1328.95 L238.66,1329.57 L241.07,1330.29 L243.48,1331.08 L245.88,1331.96 L248.27,1332.91 L250.65,1333.92 L253.01,1334.99 L255.37,1336.12 L257.70,1337.30 L260.03,1338.51 L262.34,1339.76 L264.63,1341.04 L266.90,1342.35 L269.15,1343.67 L271.39,1345.00 L273.60,1346.34 L275.80,1347.69 L277.99,1349.05 L280.15,1350.42 L282.30,1351.80 L284.44,1353.19 L286.57,1354.58 L288.68,1355.99 L290.79,1357.40 L292.88,1358.81 L294.96,1360.23 L297.04,1361.66 L299.11,1363.09 L301.17,1364.53 L303.23,1365.97 L305.28,1367.42 L307.34,1368.86 L309.38,1370.31 L311.43,1371.77 L313.48,1373.22 L315.53,1374.67 L317.58,1376.13 L319.63,1377.58 L321.68,1379.04 L323.74,1380.49 L325.80,1381.94 L327.87,1383.39 L329.93,1384.84 L332.00,1386.29 L334.08,1387.74 L336.16,1389.18 L338.24,1390.62 L340.32,1392.06 L342.41,1393.50 L344.51,1394.93 L346.60,1396.36 L348.70,1397.79 L350.81,1399.21 L352.92,1400.62 L355.03,1402.04 L357.14,1403.45 L359.26,1404.85 L361.39,1406.25 L363.52,1407.64 L365.65,1409.02 L367.79,1410.41 L369.93,1411.78 L372.07,1413.15 L374.22,1414.51 L376.38,1415.86 L378.54,1417.21 L380.70,1418.55 L382.87,1419.88 L385.04,1421.20 L387.22,1422.52 L389.40,1423.82 L391.59,1425.12 L393.78,1426.41 L395.98,1427.69 L398.18,1428.96 L400.38,1430.22 L402.60,1431.47 L404.81,1432.71 L407.03,1433.94 L409.26,1435.16 L411.49,1436.36 L413.73,1437.56 L415.97,1438.74 L418.22,1439.92 L420.48,1441.08 L422.74,1442.22 L425.00,1443.36 L427.27,1444.48 L429.55,1445.59 L431.83,1446.69 L434.12,1447.77 L436.41,1448.84 L438.71,1449.89 L441.01,1450.93 L443.32,1451.96 L445.64,1452.97 L447.96,1453.97 L450.29,1454.95 L452.62,1455.92 L454.96,1456.88 L457.30,1457.82 L459.65,1458.75 L462.01,1459.67 L464.37,1460.57 L466.73,1461.46 L469.10,1462.34 L471.47,1463.20 L473.85,1464.05 L476.24,1464.89 L478.62,1465.72 L481.02,1466.53 L483.41,1467.33 L485.82,1468.12 L488.22,1468.90 L490.63,1469.67 L493.04,1470.42 L495.46,1471.16 L497.88,1471.90 L500.31,1472.62 L502.74,1473.32 L505.17,1474.02 L507.61,1474.71 L510.05,1475.38 L512.49,1476.05 L514.94,1476.70 L517.39,1477.34 L519.84,1477.98 L522.30,1478.60 L524.76,1479.21 L527.22,1479.82 L529.69,1480.41 L532.15,1480.99 L534.63,1481.56 L537.10,1482.13 L539.57,1482.68 L542.05,1483.23 L544.53,1483.76 L547.02,1484.29 L549.50,1484.81 L551.99,1485.32 L554.48,1485.82 L556.97,1486.31 L559.46,1486.79 L561.96,1487.27 L564.46,1487.73 L566.96,1488.19 L569.46,1488.64 L571.96,1489.09 L574.46,1489.52 L576.96,1489.95 L579.47,1490.37 L581.98,1490.78 L584.48,1491.19 L586.99,1491.58 L589.50,1491.97 L592.01,1492.36 L594.52,1492.74 L597.04,1493.11 L599.55,1493.47 L602.06,1493.83 L604.57,1494.18 L607.09,1494.53 L609.60,1494.87 L612.12,1495.20 L614.63,1495.53 L617.15,1495.85 L619.66,1496.16 L622.18,1496.47 L624.70,1496.77 L627.22,1497.07 L629.73,1497.36 L632.25,1497.65 L634.77,1497.93 L637.29,1498.20 L639.81,1498.47 L642.33,1498.73 L644.85,1498.99 L647.37,1499.24 L649.89,1499.49 L652.41,1499.73 L654.93,1499.96 L657.46,1500.19 L659.98,1500.42 L662.50,1500.64 L665.03,1500.85 L667.55,1501.06 L670.07,1501.26 L672.60,1501.46 L675.12,1501.66 L677.65,1501.84 L680.17,1502.03 L682.70,1502.21 L685.23,1502.38 L687.75,1502.55 L690.28,1502.72 L692.81,1502.88 L695.33,1503.03 L697.86,1503.19 L700.39,1503.33 L702.92,1503.47 L705.44,1503.61 L707.97,1503.75 L710.50,1503.88 L713.03,1504.00 L715.56,1504.12 L718.09,1504.24 L720.62,1504.35 L723.15,1504.46 L725.68,1504.56 L728.21,1504.66 L730.74,1504.76 L733.28,1504.85 L735.81,1504.94 L738.34,1505.03 L740.87,1505.11 L743.40,1505.19 L745.94,1505.26 L748.47,1505.33 L751.00,1505.40 L753.53,1505.46 L756.07,1505.52 L758.60,1505.58 L761.13,1505.63 L763.67,1505.68 L766.20,1505.73 L768.74,1505.77 L771.27,1505.81 L773.80,1505.85 L776.34,1505.88 L778.87,1505.91 L781.41,1505.94 L783.94,1505.97 L786.48,1505.99 L789.01,1506.01 L791.55,1506.02 L794.08,1506.04 L796.62,1506.05 L799.16,1506.06 L801.69,1506.06 L804.23,1506.07 L806.76,1506.07 L809.30,1506.07 L811.84,1506.06 L814.37,1506.06 L816.91,1506.05 L819.44,1506.04 L821.98,1506.03 L824.52,1506.01 L827.05,1505.99 L829.59,1505.97 L832.13,1505.95 L834.66,1505.93 L837.20,1505.91 L839.74,1505.88 L842.27,1505.85 L844.81,1505.82 L847.35,1505.79 L849.88,1505.75 L852.42,1505.72 L854.96,1505.68 L857.50,1505.64 L860.03,1505.60 L862.57,1505.56 L865.11,1505.52 L867.64,1505.47 L870.18,1505.43 L872.72,1505.38 L875.25,1505.33 L877.79,1505.29 L880.33,1505.24 L882.86,1505.18 L885.40,1505.13 L887.94,1505.08 L890.47,1505.03 L893.01,1504.97 L895.55,1504.91 L898.08,1504.86 L900.62,1504.80 L903.15,1504.74 L905.69,1504.69 L908.23,1504.63 L910.76,1504.57 L913.30,1504.51 L915.83,1504.45 L918.37,1504.39 L920.90,1504.33 L923.44,1504.26 L925.97,1504.20 L928.51,1504.14 L931.04,1504.08 L933.58,1504.02 L936.11,1503.96 L938.65,1503.89 L941.18,1503.83 L943.71,1503.77 L946.25,1503.71 L948.78,1503.65 L951.32,1503.59 L953.85,1503.53 L956.38,1503.46 L958.92,1503.40 L961.45,1503.34 L963.98,1503.29 L966.51,1503.23 L969.05,1503.17 L971.58,1503.11 L974.11,1503.06 L976.64,1503.00 L979.17,1502.94 L981.70,1502.89 L984.23,1502.84 L986.76,1502.78 L989.29,1502.73 L991.82,1502.68 L994.35,1502.63 L996.88,1502.58 L999.41,1502.54 L1001.94,1502.49 L1004.47,1502.45 L1007.00,1502.40" fill="none" stroke="#ff0000" stroke-width="4.3" stroke-linejoin="round"/>
<path d="M117.10,1601.30 L117.31,1598.72 L117.53,1596.15 L117.76,1593.57 L117.98,1590.99 L118.22,1588.42 L118.46,1585.84 L118.71,1583.27 L118.96,1580.69 L119.21,1578.12 L119.48,1575.55 L119.74,1572.98 L120.02,1570.40 L120.30,1567.83 L120.58,1565.26 L120.87,1562.69 L121.17,1560.12 L121.47,1557.56 L121.78,1554.99 L122.09,1552.42 L122.41,1549.86 L122.73,1547.29 L123.06,1544.72 L123.39,1542.16 L123.73,1539.60 L124.08,1537.04 L124.43,1534.47 L124.79,1531.91 L125.15,1529.35 L125.52,1526.79 L125.89,1524.24 L126.27,1521.68 L126.66,1519.12 L127.05,1516.57 L127.45,1514.01 L127.85,1511.46 L128.26,1508.91 L128.67,1506.36 L129.09,1503.81 L129.52,1501.26 L129.95,1498.71 L130.38,1496.16 L130.83,1493.61 L131.27,1491.07 L131.73,1488.52 L132.19,1485.98 L132.65,1483.44 L133.12,1480.90 L133.60,1478.36 L134.08,1475.82 L134.57,1473.28 L135.06,1470.75 L135.56,1468.21 L136.07,1465.68 L136.58,1463.15 L137.09,1460.62 L137.62,1458.09 L138.15,1455.56 L138.68,1453.03 L139.22,1450.51 L139.77,1447.98 L140.32,1445.46 L140.87,1442.94 L141.44,1440.42 L142.01,1437.90 L142.58,1435.38 L143.16,1432.87 L143.75,1430.35 L144.34,1427.84 L144.94,1425.33 L145.54,1422.82 L146.15,1420.31 L146.77,1417.80 L147.39,1415.30 L148.02,1412.79 L148.65,1410.29 L149.29,1407.79 L149.93,1405.29 L150.58,1402.79 L151.24,1400.30 L151.90,1397.81 L152.57,1395.31 L153.25,1392.82 L153.93,1390.33 L154.61,1387.85 L155.30,1385.36 L156.00,1382.88 L156.71,1380.40 L157.42,1377.92 L158.13,1375.44 L158.85,1372.96 L159.58,1370.49 L160.32,1368.02 L161.06,1365.55 L161.82,1363.08 L162.59,1360.62 L163.38,1358.17 L164.18,1355.72 L165.00,1353.28 L165.84,1350.84 L166.71,1348.42 L167.59,1346.00 L168.51,1343.60 L169.45,1341.20 L170.42,1338.81 L171.42,1336.44 L172.46,1334.08 L173.53,1331.73 L174.64,1329.40 L175.79,1327.08 L176.98,1324.77 L178.21,1322.48 L179.48,1320.21 L180.80,1317.96 L182.17,1315.72 L183.59,1313.51 L185.06,1311.31 L186.59,1309.13 L188.16,1306.98 L189.80,1304.85 L191.48,1302.75 L193.22,1300.69 L195.01,1298.67 L196.84,1296.70 L198.73,1294.79 L200.65,1292.93 L202.62,1291.15 L204.63,1289.43 L206.68,1287.79 L208.77,1286.24 L210.90,1284.78 L213.06,1283.41 L215.25,1282.15 L217.48,1280.99 L219.73,1279.95 L222.02,1279.03 L224.33,1278.23 L226.66,1277.56 L229.02,1277.02 L231.40,1276.59 L233.80,1276.27 L236.22,1276.07 L238.65,1275.97 L241.11,1275.97 L243.57,1276.06 L246.05,1276.24 L248.54,1276.51 L251.03,1276.85 L253.54,1277.27 L256.05,1277.76 L258.56,1278.31 L261.08,1278.93 L263.60,1279.59 L266.12,1280.31 L268.64,1281.08 L271.15,1281.88 L273.66,1282.72 L276.16,1283.59 L278.65,1284.48 L281.13,1285.40 L283.60,1286.33 L286.07,1287.28 L288.52,1288.24 L290.96,1289.22 L293.39,1290.22 L295.81,1291.23 L298.22,1292.25 L300.62,1293.28 L303.02,1294.33 L305.40,1295.39 L307.78,1296.47 L310.15,1297.55 L312.52,1298.64 L314.87,1299.74 L317.22,1300.86 L319.57,1301.98 L321.91,1303.11 L324.24,1304.25 L326.56,1305.39 L328.89,1306.55 L331.20,1307.71 L333.52,1308.87 L335.82,1310.04 L338.13,1311.22 L340.43,1312.39 L342.73,1313.58 L345.02,1314.76 L347.32,1315.95 L349.61,1317.14 L351.90,1318.34 L354.18,1319.53 L356.47,1320.72 L358.75,1321.92 L361.04,1323.11 L363.32,1324.30 L365.61,1325.50 L367.89,1326.69 L370.18,1327.87 L372.46,1329.06 L374.75,1330.24 L377.04,1331.41 L379.33,1332.59 L381.62,1333.75 L383.92,1334.91 L386.22,1336.07 L388.52,1337.21 L390.82,1338.36 L393.13,1339.49 L395.45,1340.61 L397.76,1341.73 L400.09,1342.83 L402.41,1343.93 L404.75,1345.02 L407.08,1346.10 L409.43,1347.16 L411.77,1348.22 L414.13,1349.27 L416.48,1350.31 L418.84,1351.33 L421.21,1352.35 L423.58,1353.36 L425.96,1354.36 L428.34,1355.35 L430.72,1356.34 L433.11,1357.31 L435.50,1358.27 L437.90,1359.23 L440.30,1360.17 L442.71,1361.11 L445.11,1362.03 L447.53,1362.95 L449.95,1363.86 L452.37,1364.76 L454.79,1365.65 L457.22,1366.54 L459.65,1367.41 L462.09,1368.28 L464.53,1369.13 L466.97,1369.98 L469.42,1370.82 L471.87,1371.65 L474.32,1372.47 L476.78,1373.29 L479.24,1374.10 L481.70,1374.89 L484.17,1375.68 L486.64,1376.47 L489.11,1377.24 L491.58,1378.01 L494.06,1378.76 L496.54,1379.51 L499.02,1380.26 L501.51,1380.99 L504.00,1381.72 L506.49,1382.44 L508.98,1383.15 L511.48,1383.85 L513.98,1384.55 L516.48,1385.23 L518.98,1385.92 L521.49,1386.59 L524.00,1387.26 L526.51,1387.91 L529.02,1388.57 L531.53,1389.21 L534.05,1389.85 L536.56,1390.48 L539.08,1391.10 L541.60,1391.72 L544.12,1392.33 L546.65,1392.93 L549.17,1393.52 L551.70,1394.11 L554.23,1394.70 L556.76,1395.27 L559.29,1395.84 L561.82,1396.40 L564.36,1396.96 L566.89,1397.51 L569.43,1398.05 L571.96,1398.58 L574.50,1399.11 L577.04,1399.64 L579.58,1400.16 L582.12,1400.67 L584.66,1401.17 L587.20,1401.67 L589.74,1402.16 L592.29,1402.65 L594.83,1403.13 L597.38,1403.61 L599.92,1404.08 L602.47,1404.54 L605.01,1405.00 L607.56,1405.45 L610.11,1405.89 L612.66,1406.33 L615.21,1406.77 L617.76,1407.20 L620.31,1407.62 L622.86,1408.04 L625.41,1408.45 L627.96,1408.86 L630.52,1409.26 L633.07,1409.65 L635.63,1410.04 L638.18,1410.43 L640.74,1410.81 L643.29,1411.18 L645.85,1411.55 L648.41,1411.92 L650.97,1412.27 L653.53,1412.63 L656.09,1412.98 L658.65,1413.32 L661.21,1413.66 L663.77,1413.99 L666.33,1414.32 L668.89,1414.65 L671.45,1414.97 L674.02,1415.28 L676.58,1415.59 L679.14,1415.90 L681.71,1416.20 L684.27,1416.49 L686.84,1416.78 L689.41,1417.07 L691.97,1417.35 L694.54,1417.63 L697.11,1417.90 L699.68,1418.17 L702.25,1418.43 L704.82,1418.69 L707.38,1418.95 L709.95,1419.20 L712.53,1419.45 L715.10,1419.69 L717.67,1419.93 L720.24,1420.16 L722.81,1420.40 L725.39,1420.62 L727.96,1420.84 L730.53,1421.06 L733.11,1421.28 L735.68,1421.49 L738.25,1421.70 L740.83,1421.90 L743.41,1422.10 L745.98,1422.30 L748.56,1422.49 L751.13,1422.68 L753.71,1422.86 L756.29,1423.04 L758.87,1423.22 L761.44,1423.39 L764.02,1423.56 L766.60,1423.73 L769.18,1423.90 L771.76,1424.06 L774.34,1424.21 L776.92,1424.37 L779.50,1424.52 L782.08,1424.67 L784.66,1424.81 L787.24,1424.95 L789.82,1425.09 L792.40,1425.23 L794.99,1425.36 L797.57,1425.49 L800.15,1425.62 L802.73,1425.74 L805.31,1425.86 L807.90,1425.98 L810.48,1426.09 L813.06,1426.21 L815.65,1426.32 L818.23,1426.42 L820.82,1426.53 L823.40,1426.63 L825.98,1426.73 L828.57,1426.83 L831.15,1426.92 L833.74,1427.01 L836.32,1427.10 L838.91,1427.19 L841.49,1427.28 L844.08,1427.36 L846.67,1427.44 L849.25,1427.52 L851.84,1427.60 L854.42,1427.67 L857.01,1427.74 L859.60,1427.81 L862.18,1427.88 L864.77,1427.95 L867.35,1428.01 L869.94,1428.07 L872.53,1428.13 L875.12,1428.19 L877.70,1428.25 L880.29,1428.31 L882.88,1428.36 L885.46,1428.41 L888.05,1428.46 L890.64,1428.51 L893.22,1428.56 L895.81,1428.60 L898.40,1428.65 L900.99,1428.69 L903.57,1428.73 L906.16,1428.77 L908.75,1428.81 L911.33,1428.85 L913.92,1428.88 L916.51,1428.92 L919.10,1428.95 L921.68,1428.99 L924.27,1429.02 L926.86,1429.05 L929.44,1429.08 L932.03,1429.11 L934.62,1429.14 L937.20,1429.16 L939.79,1429.19 L942.38,1429.22 L944.96,1429.24 L947.55,1429.26 L950.14,1429.29 L952.72,1429.31 L955.31,1429.33 L957.90,1429.35 L960.48,1429.37 L963.07,1429.40 L965.65,1429.42 L968.24,1429.43 L970.82,1429.45 L973.41,1429.47 L975.99,1429.49 L978.58,1429.51 L981.16,1429.53 L983.75,1429.55 L986.33,1429.56 L988.92,1429.58 L991.50,1429.60 L994.08,1429.62 L996.67,1429.63 L999.25,1429.65 L1001.83,1429.67 L1004.42,1429.69 L1007.00,1429.70" fill="none" stroke="#ff0000" stroke-width="4.0" stroke-dasharray="15.4 20.9" stroke-dashoffset="1.6" stroke-linejoin="round"/>
<path d="M117.11,1601.31 L119.62,1600.29 L122.04,1599.15 L124.37,1597.90 L126.61,1596.54 L128.76,1595.07 L130.82,1593.52 L132.81,1591.87 L134.73,1590.14 L136.57,1588.33 L138.35,1586.44 L140.07,1584.49 L141.72,1582.47 L143.33,1580.40 L144.88,1578.28 L146.38,1576.11 L147.85,1573.90 L149.27,1571.66 L150.66,1569.39 L152.02,1567.10 L153.35,1564.79 L154.66,1562.47 L155.94,1560.14 L157.21,1557.80 L158.46,1555.45 L159.69,1553.09 L160.90,1550.73 L162.10,1548.36 L163.28,1545.98 L164.45,1543.59 L165.60,1541.20 L166.74,1538.81 L167.87,1536.41 L168.99,1534.00 L170.10,1531.59 L171.21,1529.18 L172.30,1526.77 L173.39,1524.35 L174.48,1521.94 L175.56,1519.52 L176.63,1517.10 L177.71,1514.68 L178.78,1512.26 L179.85,1509.84 L180.92,1507.42 L181.99,1505.00 L183.06,1502.58 L184.12,1500.16 L185.18,1497.74 L186.25,1495.32 L187.31,1492.90 L188.37,1490.49 L189.43,1488.07 L190.49,1485.65 L191.55,1483.23 L192.61,1480.81 L193.67,1478.39 L194.73,1475.98 L195.79,1473.56 L196.85,1471.14 L197.91,1468.72 L198.97,1466.31 L200.03,1463.89 L201.09,1461.48 L202.16,1459.06 L203.22,1456.65 L204.29,1454.23 L205.36,1451.82 L206.43,1449.40 L207.50,1446.99 L208.57,1444.58 L209.65,1442.17 L210.73,1439.76 L211.81,1437.35 L212.89,1434.94 L213.97,1432.53 L215.06,1430.12 L216.15,1427.71 L217.25,1425.30 L218.34,1422.90 L219.44,1420.49 L220.54,1418.08 L221.63,1415.68 L222.73,1413.27 L223.83,1410.86 L224.94,1408.45 L226.04,1406.05 L227.14,1403.64 L228.24,1401.23 L229.33,1398.81 L230.43,1396.40 L231.53,1393.99 L232.62,1391.57 L233.71,1389.16 L234.80,1386.74 L235.89,1384.32 L236.97,1381.90 L238.05,1379.47 L239.13,1377.05 L240.20,1374.62 L241.27,1372.19 L242.33,1369.76 L243.39,1367.32 L244.45,1364.88 L245.50,1362.44 L246.54,1359.99 L247.58,1357.55 L248.61,1355.09 L249.64,1352.64 L250.67,1350.19 L251.69,1347.74 L252.72,1345.28 L253.75,1342.83 L254.78,1340.38 L255.82,1337.94 L256.86,1335.50 L257.92,1333.06 L258.98,1330.63 L260.05,1328.21 L261.13,1325.79 L262.23,1323.39 L263.34,1320.99 L264.46,1318.60 L265.61,1316.22 L266.77,1313.86 L267.96,1311.51 L269.16,1309.17 L270.39,1306.84 L271.63,1304.53 L272.90,1302.23 L274.18,1299.94 L275.48,1297.65 L276.79,1295.38 L278.11,1293.11 L279.45,1290.85 L280.80,1288.59 L282.15,1286.34 L283.51,1284.09 L284.88,1281.85 L286.25,1279.60 L287.63,1277.35 L289.01,1275.11 L290.38,1272.86 L291.76,1270.61 L293.14,1268.36 L294.52,1266.10 L295.90,1263.85 L297.28,1261.59 L298.66,1259.33 L300.04,1257.08 L301.43,1254.82 L302.81,1252.56 L304.20,1250.30 L305.60,1248.05 L306.99,1245.79 L308.39,1243.54 L309.80,1241.29 L311.21,1239.04 L312.62,1236.79 L314.04,1234.55 L315.46,1232.31 L316.89,1230.07 L318.32,1227.83 L319.77,1225.60 L321.21,1223.38 L322.67,1221.16 L324.13,1218.94 L325.60,1216.73 L327.08,1214.52 L328.56,1212.33 L330.06,1210.13 L331.56,1207.94 L333.07,1205.76 L334.59,1203.59 L336.12,1201.43 L337.66,1199.27 L339.22,1197.12 L340.78,1194.98 L342.35,1192.84 L343.94,1190.72 L345.53,1188.61 L347.14,1186.50 L348.76,1184.41 L350.40,1182.32 L352.04,1180.25 L353.70,1178.19 L355.38,1176.13 L357.07,1174.09 L358.77,1172.06 L360.48,1170.05 L362.21,1168.04 L363.96,1166.05 L365.71,1164.07 L367.48,1162.10 L369.26,1160.14 L371.06,1158.19 L372.87,1156.26 L374.69,1154.34 L376.53,1152.43 L378.38,1150.53 L380.24,1148.65 L382.11,1146.78 L384.00,1144.92 L385.89,1143.07 L387.81,1141.24 L389.73,1139.41 L391.66,1137.61 L393.61,1135.81 L395.57,1134.03 L397.54,1132.26 L399.52,1130.50 L401.51,1128.76 L403.52,1127.03 L405.53,1125.31 L407.56,1123.61 L409.60,1121.92 L411.65,1120.24 L413.71,1118.58 L415.78,1116.93 L417.87,1115.29 L419.96,1113.67 L422.06,1112.06 L424.18,1110.47 L426.30,1108.89 L428.43,1107.32 L430.58,1105.77 L432.73,1104.23 L434.90,1102.71 L437.07,1101.20 L439.26,1099.71 L441.45,1098.23 L443.65,1096.76 L445.87,1095.31 L448.09,1093.87 L450.32,1092.45 L452.56,1091.05 L454.81,1089.65 L457.06,1088.28 L459.33,1086.92 L461.61,1085.57 L463.89,1084.24 L466.18,1082.92 L468.48,1081.62 L470.79,1080.33 L473.11,1079.06 L475.44,1077.81 L477.77,1076.57 L480.11,1075.35 L482.46,1074.14 L484.82,1072.95 L487.18,1071.77 L489.55,1070.61 L491.93,1069.47 L494.32,1068.34 L496.71,1067.23 L499.11,1066.13 L501.52,1065.05 L503.93,1063.99 L506.35,1062.94 L508.78,1061.91 L511.21,1060.89 L513.65,1059.90 L516.10,1058.92 L518.55,1057.95 L521.01,1057.01 L523.48,1056.07 L525.95,1055.16 L528.43,1054.26 L530.91,1053.38 L533.40,1052.52 L535.89,1051.67 L538.39,1050.84 L540.89,1050.02 L543.40,1049.22 L545.92,1048.44 L548.44,1047.67 L550.96,1046.91 L553.49,1046.17 L556.03,1045.45 L558.57,1044.74 L561.11,1044.04 L563.66,1043.36 L566.21,1042.69 L568.77,1042.04 L571.33,1041.40 L573.90,1040.77 L576.47,1040.16 L579.04,1039.56 L581.62,1038.97 L584.20,1038.39 L586.79,1037.83 L589.38,1037.28 L591.97,1036.74 L594.57,1036.22 L597.17,1035.70 L599.77,1035.20 L602.38,1034.71 L604.98,1034.23 L607.60,1033.76 L610.21,1033.31 L612.83,1032.86 L615.45,1032.43 L618.07,1032.00 L620.70,1031.59 L623.33,1031.18 L625.96,1030.79 L628.59,1030.40 L631.23,1030.03 L633.86,1029.66 L636.50,1029.30 L639.14,1028.96 L641.79,1028.62 L644.43,1028.29 L647.08,1027.97 L649.72,1027.65 L652.37,1027.35 L655.02,1027.05 L657.68,1026.76 L660.33,1026.48 L662.98,1026.21 L665.64,1025.94 L668.29,1025.68 L670.95,1025.43 L673.61,1025.18 L676.27,1024.94 L678.92,1024.71 L681.58,1024.48 L684.24,1024.26 L686.90,1024.05 L689.56,1023.84 L692.22,1023.63 L694.88,1023.44 L697.54,1023.24 L700.20,1023.05 L702.86,1022.87 L705.52,1022.69 L708.18,1022.52 L710.84,1022.35 L713.50,1022.18 L716.15,1022.02 L718.81,1021.86 L721.46,1021.71 L724.12,1021.56 L726.77,1021.41 L729.42,1021.26 L732.07,1021.12 L734.72,1020.99 L737.37,1020.85 L740.02,1020.72 L742.67,1020.59 L745.32,1020.47 L747.96,1020.35 L750.61,1020.23 L753.25,1020.11 L755.90,1020.00 L758.54,1019.89 L761.19,1019.79 L763.83,1019.68 L766.47,1019.58 L769.11,1019.48 L771.75,1019.39 L774.39,1019.30 L777.03,1019.21 L779.67,1019.12 L782.31,1019.04 L784.94,1018.96 L787.58,1018.88 L790.22,1018.81 L792.86,1018.74 L795.49,1018.67 L798.13,1018.60 L800.76,1018.54 L803.40,1018.47 L806.03,1018.41 L808.67,1018.36 L811.30,1018.30 L813.94,1018.25 L816.57,1018.20 L819.20,1018.15 L821.84,1018.11 L824.47,1018.07 L827.10,1018.03 L829.74,1017.99 L832.37,1017.95 L835.00,1017.92 L837.63,1017.89 L840.27,1017.86 L842.90,1017.83 L845.53,1017.80 L848.17,1017.78 L850.80,1017.76 L853.43,1017.74 L856.07,1017.72 L858.70,1017.71 L861.33,1017.69 L863.97,1017.68 L866.60,1017.67 L869.23,1017.66 L871.87,1017.65 L874.50,1017.65 L877.14,1017.65 L879.77,1017.64 L882.41,1017.64 L885.04,1017.65 L887.68,1017.65 L890.31,1017.65 L892.95,1017.66 L895.59,1017.67 L898.23,1017.68 L900.86,1017.69 L903.50,1017.70 L906.14,1017.71 L908.78,1017.72 L911.42,1017.74 L914.06,1017.76 L916.70,1017.78 L919.34,1017.79 L921.99,1017.82 L924.63,1017.84 L927.27,1017.86 L929.92,1017.88 L932.56,1017.91 L935.21,1017.93 L937.86,1017.96 L940.50,1017.99 L943.15,1018.02 L945.80,1018.05 L948.45,1018.08 L951.10,1018.11 L953.75,1018.14 L956.41,1018.17 L959.06,1018.21 L961.71,1018.24 L964.37,1018.28 L967.03,1018.31 L969.68,1018.35 L972.34,1018.38 L975.00,1018.42 L977.66,1018.46 L980.32,1018.50 L982.99,1018.54 L985.65,1018.57 L988.32,1018.61 L990.98,1018.65 L993.65,1018.69 L996.32,1018.74 L998.99,1018.78 L1001.66,1018.82 L1004.33,1018.86 L1007.01,1018.90" fill="none" stroke="#0000ff" stroke-width="4.3" stroke-linejoin="round"/>
<path d="M117.10,1601.31 L119.64,1600.77 L122.08,1600.08 L124.43,1599.25 L126.68,1598.30 L128.84,1597.23 L130.93,1596.04 L132.93,1594.74 L134.86,1593.35 L136.73,1591.86 L138.53,1590.28 L140.27,1588.63 L141.95,1586.90 L143.59,1585.11 L145.18,1583.27 L146.73,1581.37 L148.24,1579.43 L149.72,1577.45 L151.17,1575.44 L152.60,1573.41 L154.01,1571.37 L155.41,1569.32 L156.79,1567.26 L158.16,1565.19 L159.52,1563.11 L160.86,1561.03 L162.20,1558.94 L163.52,1556.84 L164.83,1554.74 L166.14,1552.63 L167.43,1550.51 L168.72,1548.39 L170.00,1546.27 L171.27,1544.14 L172.53,1542.01 L173.79,1539.87 L175.04,1537.73 L176.29,1535.59 L177.53,1533.44 L178.77,1531.29 L180.00,1529.14 L181.23,1526.99 L182.45,1524.83 L183.67,1522.67 L184.89,1520.51 L186.10,1518.35 L187.31,1516.18 L188.51,1514.02 L189.72,1511.85 L190.91,1509.68 L192.11,1507.51 L193.30,1505.33 L194.50,1503.16 L195.69,1500.99 L196.87,1498.81 L198.06,1496.64 L199.25,1494.46 L200.43,1492.29 L201.61,1490.11 L202.80,1487.94 L203.98,1485.76 L205.16,1483.59 L206.34,1481.41 L207.52,1479.24 L208.70,1477.07 L209.89,1474.89 L211.07,1472.72 L212.26,1470.56 L213.44,1468.39 L214.63,1466.22 L215.82,1464.06 L217.01,1461.90 L218.20,1459.74 L219.40,1457.58 L220.59,1455.42 L221.79,1453.27 L223.00,1451.12 L224.20,1448.97 L225.41,1446.83 L226.62,1444.68 L227.83,1442.54 L229.05,1440.40 L230.27,1438.27 L231.49,1436.13 L232.71,1434.00 L233.94,1431.87 L235.17,1429.74 L236.41,1427.62 L237.65,1425.50 L238.89,1423.37 L240.13,1421.26 L241.38,1419.14 L242.63,1417.02 L243.89,1414.91 L245.14,1412.80 L246.41,1410.69 L247.67,1408.59 L248.94,1406.48 L250.21,1404.38 L251.49,1402.28 L252.77,1400.18 L254.06,1398.09 L255.34,1395.99 L256.64,1393.90 L257.93,1391.81 L259.24,1389.72 L260.54,1387.64 L261.85,1385.55 L263.16,1383.47 L264.48,1381.39 L265.80,1379.31 L267.13,1377.23 L268.46,1375.16 L269.80,1373.08 L271.14,1371.01 L272.49,1368.94 L273.84,1366.87 L275.19,1364.81 L276.55,1362.74 L277.92,1360.68 L279.29,1358.62 L280.66,1356.56 L282.04,1354.51 L283.43,1352.45 L284.82,1350.40 L286.22,1348.36 L287.62,1346.31 L289.03,1344.27 L290.45,1342.24 L291.87,1340.21 L293.30,1338.18 L294.74,1336.15 L296.18,1334.14 L297.63,1332.12 L299.08,1330.11 L300.54,1328.11 L302.01,1326.11 L303.49,1324.11 L304.98,1322.13 L306.47,1320.14 L307.97,1318.17 L309.48,1316.20 L310.99,1314.24 L312.52,1312.28 L314.05,1310.33 L315.59,1308.39 L317.14,1306.45 L318.70,1304.52 L320.27,1302.60 L321.84,1300.69 L323.43,1298.79 L325.02,1296.89 L326.62,1295.00 L328.24,1293.13 L329.86,1291.26 L331.49,1289.39 L333.13,1287.54 L334.78,1285.70 L336.44,1283.86 L338.11,1282.04 L339.79,1280.22 L341.47,1278.41 L343.17,1276.61 L344.87,1274.82 L346.58,1273.04 L348.31,1271.26 L350.04,1269.50 L351.78,1267.74 L353.52,1265.99 L355.28,1264.26 L357.04,1262.53 L358.82,1260.81 L360.60,1259.10 L362.39,1257.39 L364.19,1255.70 L366.00,1254.02 L367.81,1252.34 L369.63,1250.68 L371.46,1249.02 L373.30,1247.37 L375.15,1245.73 L377.01,1244.10 L378.87,1242.48 L380.74,1240.87 L382.62,1239.27 L384.51,1237.68 L386.40,1236.09 L388.30,1234.52 L390.21,1232.96 L392.13,1231.40 L394.05,1229.85 L395.99,1228.32 L397.93,1226.79 L399.87,1225.27 L401.83,1223.76 L403.79,1222.26 L405.76,1220.77 L407.73,1219.29 L409.72,1217.82 L411.71,1216.36 L413.70,1214.91 L415.71,1213.47 L417.72,1212.03 L419.73,1210.61 L421.76,1209.20 L423.79,1207.79 L425.83,1206.40 L427.87,1205.01 L429.92,1203.64 L431.98,1202.27 L434.04,1200.91 L436.11,1199.57 L438.19,1198.23 L440.27,1196.90 L442.36,1195.59 L444.46,1194.28 L446.56,1192.98 L448.67,1191.69 L450.78,1190.42 L452.90,1189.15 L455.03,1187.89 L457.16,1186.64 L459.29,1185.40 L461.44,1184.17 L463.59,1182.95 L465.74,1181.75 L467.90,1180.55 L470.07,1179.36 L472.24,1178.18 L474.41,1177.01 L476.60,1175.85 L478.78,1174.70 L480.98,1173.56 L483.18,1172.44 L485.38,1171.32 L487.59,1170.21 L489.80,1169.11 L492.02,1168.02 L494.24,1166.95 L496.47,1165.88 L498.71,1164.82 L500.94,1163.77 L503.19,1162.74 L505.44,1161.71 L507.69,1160.69 L509.95,1159.69 L512.21,1158.69 L514.47,1157.71 L516.74,1156.73 L519.02,1155.77 L521.30,1154.81 L523.58,1153.87 L525.87,1152.94 L528.16,1152.01 L530.46,1151.10 L532.76,1150.20 L535.07,1149.31 L537.38,1148.43 L539.69,1147.56 L542.01,1146.70 L544.33,1145.85 L546.65,1145.01 L548.98,1144.18 L551.31,1143.36 L553.65,1142.56 L555.99,1141.76 L558.33,1140.98 L560.68,1140.20 L563.03,1139.44 L565.38,1138.69 L567.74,1137.94 L570.10,1137.21 L572.46,1136.49 L574.83,1135.78 L577.20,1135.08 L579.57,1134.39 L581.94,1133.71 L584.32,1133.04 L586.70,1132.39 L589.09,1131.74 L591.48,1131.10 L593.87,1130.47 L596.26,1129.85 L598.66,1129.24 L601.05,1128.64 L603.45,1128.05 L605.86,1127.46 L608.26,1126.89 L610.67,1126.32 L613.08,1125.77 L615.50,1125.22 L617.91,1124.68 L620.33,1124.15 L622.75,1123.63 L625.17,1123.12 L627.60,1122.61 L630.02,1122.12 L632.45,1121.63 L634.88,1121.14 L637.31,1120.67 L639.75,1120.20 L642.18,1119.74 L644.62,1119.29 L647.06,1118.85 L649.50,1118.41 L651.94,1117.98 L654.39,1117.56 L656.83,1117.14 L659.28,1116.73 L661.73,1116.33 L664.18,1115.93 L666.63,1115.54 L669.08,1115.15 L671.54,1114.78 L673.99,1114.40 L676.45,1114.04 L678.90,1113.68 L681.36,1113.32 L683.82,1112.97 L686.28,1112.63 L688.74,1112.29 L691.20,1111.95 L693.66,1111.62 L696.13,1111.30 L698.59,1110.98 L701.06,1110.67 L703.52,1110.36 L705.99,1110.05 L708.45,1109.75 L710.92,1109.46 L713.38,1109.16 L715.85,1108.87 L718.32,1108.59 L720.79,1108.31 L723.25,1108.03 L725.72,1107.76 L728.19,1107.49 L730.66,1107.22 L733.12,1106.96 L735.59,1106.70 L738.06,1106.44 L740.53,1106.19 L742.99,1105.94 L745.46,1105.69 L747.93,1105.44 L750.39,1105.20 L752.86,1104.96 L755.32,1104.72 L757.79,1104.49 L760.25,1104.25 L762.72,1104.02 L765.18,1103.79 L767.64,1103.56 L770.11,1103.34 L772.57,1103.12 L775.03,1102.90 L777.50,1102.68 L779.96,1102.47 L782.42,1102.25 L784.88,1102.04 L787.34,1101.84 L789.80,1101.63 L792.26,1101.43 L794.72,1101.23 L797.18,1101.03 L799.64,1100.83 L802.10,1100.64 L804.56,1100.45 L807.02,1100.26 L809.48,1100.08 L811.94,1099.90 L814.40,1099.72 L816.86,1099.54 L819.32,1099.36 L821.78,1099.19 L824.24,1099.02 L826.70,1098.85 L829.16,1098.68 L831.61,1098.52 L834.07,1098.36 L836.53,1098.20 L838.99,1098.05 L841.45,1097.90 L843.91,1097.75 L846.37,1097.60 L848.83,1097.45 L851.29,1097.31 L853.75,1097.17 L856.21,1097.03 L858.67,1096.90 L861.13,1096.76 L863.59,1096.64 L866.05,1096.51 L868.51,1096.38 L870.97,1096.26 L873.43,1096.14 L875.89,1096.03 L878.35,1095.91 L880.81,1095.80 L883.27,1095.69 L885.74,1095.58 L888.20,1095.48 L890.66,1095.38 L893.12,1095.28 L895.59,1095.19 L898.05,1095.09 L900.52,1095.00 L902.98,1094.92 L905.45,1094.83 L907.91,1094.75 L910.38,1094.67 L912.84,1094.59 L915.31,1094.52 L917.78,1094.45 L920.24,1094.38 L922.71,1094.31 L925.18,1094.25 L927.65,1094.19 L930.12,1094.13 L932.59,1094.07 L935.06,1094.02 L937.53,1093.97 L940.00,1093.92 L942.47,1093.88 L944.95,1093.84 L947.42,1093.80 L949.89,1093.76 L952.37,1093.73 L954.85,1093.70 L957.32,1093.67 L959.80,1093.65 L962.28,1093.62 L964.75,1093.60 L967.23,1093.59 L969.71,1093.57 L972.19,1093.56 L974.67,1093.56 L977.16,1093.55 L979.64,1093.55 L982.12,1093.55 L984.61,1093.55 L987.09,1093.56 L989.58,1093.57 L992.06,1093.58 L994.55,1093.59 L997.04,1093.61 L999.53,1093.63 L1002.02,1093.65 L1004.51,1093.68 L1007.00,1093.71" fill="none" stroke="#0000ff" stroke-width="4.0" stroke-dasharray="15.4 20.9" stroke-dashoffset="1.6" stroke-linejoin="round"/>
<path d="M117.07,1431.21 L118.78,1432.36 L120.49,1433.50 L122.21,1434.64 L123.93,1435.77 L125.65,1436.89 L127.38,1438.00 L129.11,1439.10 L130.84,1440.20 L132.58,1441.29 L134.32,1442.37 L136.06,1443.45 L137.81,1444.52 L139.56,1445.58 L141.31,1446.63 L143.07,1447.67 L144.83,1448.71 L146.59,1449.74 L148.36,1450.76 L150.13,1451.78 L151.90,1452.79 L153.68,1453.79 L155.45,1454.78 L157.24,1455.77 L159.02,1456.75 L160.81,1457.72 L162.60,1458.69 L164.39,1459.64 L166.19,1460.59 L167.99,1461.54 L169.79,1462.48 L171.59,1463.41 L173.40,1464.33 L175.21,1465.24 L177.02,1466.15 L178.84,1467.06 L180.66,1467.95 L182.48,1468.84 L184.30,1469.72 L186.13,1470.60 L187.96,1471.47 L189.79,1472.33 L191.63,1473.19 L193.47,1474.04 L195.31,1474.88 L197.15,1475.71 L198.99,1476.54 L200.84,1477.37 L202.69,1478.18 L204.54,1479.00 L206.40,1479.80 L208.26,1480.60 L210.12,1481.39 L211.98,1482.17 L213.84,1482.95 L215.71,1483.73 L217.58,1484.49 L219.45,1485.25 L221.33,1486.01 L223.20,1486.76 L225.08,1487.50 L226.96,1488.24 L228.85,1488.97 L230.73,1489.69 L232.62,1490.41 L234.51,1491.12 L236.40,1491.83 L238.29,1492.53 L240.19,1493.22 L242.09,1493.91 L243.99,1494.60 L245.89,1495.28 L247.79,1495.95 L249.70,1496.62 L251.61,1497.28 L253.52,1497.93 L255.43,1498.58 L257.34,1499.23 L259.26,1499.87 L261.18,1500.50 L263.10,1501.13 L265.02,1501.75 L266.94,1502.37 L268.86,1502.98 L270.79,1503.59 L272.72,1504.19 L274.65,1504.79 L276.58,1505.38 L278.51,1505.97 L280.45,1506.55 L282.38,1507.12 L284.32,1507.69 L286.26,1508.26 L288.20,1508.82 L290.15,1509.38 L292.09,1509.93 L294.04,1510.47 L295.98,1511.02 L297.93,1511.55 L299.88,1512.08 L301.83,1512.61 L303.79,1513.13 L305.74,1513.65 L307.69,1514.16 L309.65,1514.67 L311.61,1515.18 L313.57,1515.67 L315.53,1516.17 L317.49,1516.66 L319.46,1517.14 L321.42,1517.62 L323.39,1518.10 L325.35,1518.57 L327.32,1519.04 L329.29,1519.50 L331.26,1519.96 L333.23,1520.42 L335.20,1520.87 L337.18,1521.32 L339.15,1521.76 L341.12,1522.20 L343.10,1522.63 L345.08,1523.06 L347.06,1523.49 L349.04,1523.91 L351.01,1524.32 L353.00,1524.74 L354.98,1525.15 L356.96,1525.55 L358.94,1525.96 L360.93,1526.35 L362.91,1526.75 L364.90,1527.14 L366.88,1527.53 L368.87,1527.91 L370.86,1528.29 L372.85,1528.66 L374.84,1529.04 L376.83,1529.41 L378.82,1529.77 L380.81,1530.13 L382.80,1530.49 L384.79,1530.84 L386.79,1531.19 L388.78,1531.54 L390.78,1531.88 L392.77,1532.22 L394.77,1532.56 L396.77,1532.89 L398.76,1533.22 L400.76,1533.55 L402.76,1533.87 L404.76,1534.19 L406.76,1534.50 L408.76,1534.82 L410.76,1535.12 L412.77,1535.43 L414.77,1535.73 L416.77,1536.03 L418.78,1536.33 L420.78,1536.62 L422.79,1536.91 L424.79,1537.20 L426.80,1537.48 L428.81,1537.76 L430.82,1538.04 L432.82,1538.31 L434.83,1538.58 L436.84,1538.85 L438.85,1539.11 L440.86,1539.37 L442.88,1539.63 L444.89,1539.89 L446.90,1540.14 L448.91,1540.39 L450.93,1540.64 L452.94,1540.88 L454.96,1541.12 L456.97,1541.36 L458.99,1541.60 L461.00,1541.83 L463.02,1542.06 L465.04,1542.29 L467.05,1542.51 L469.07,1542.73 L471.09,1542.95 L473.11,1543.17 L475.13,1543.38 L477.15,1543.59 L479.17,1543.80 L481.19,1544.01 L483.21,1544.21 L485.23,1544.41 L487.25,1544.61 L489.28,1544.80 L491.30,1545.00 L493.32,1545.19 L495.35,1545.38 L497.37,1545.56 L499.39,1545.75 L501.42,1545.93 L503.44,1546.10 L505.47,1546.28 L507.50,1546.45 L509.52,1546.63 L511.55,1546.80 L513.58,1546.96 L515.60,1547.13 L517.63,1547.29 L519.66,1547.45 L521.69,1547.61 L523.72,1547.76 L525.75,1547.92 L527.78,1548.07 L529.81,1548.22 L531.84,1548.37 L533.87,1548.51 L535.90,1548.66 L537.93,1548.80 L539.96,1548.94 L541.99,1549.07 L544.02,1549.21 L546.05,1549.34 L548.09,1549.47 L550.12,1549.60 L552.15,1549.73 L554.18,1549.86 L556.22,1549.98 L558.25,1550.10 L560.28,1550.22 L562.32,1550.34 L564.35,1550.46 L566.39,1550.57 L568.42,1550.69 L570.46,1550.80 L572.49,1550.91 L574.53,1551.02 L576.56,1551.13 L578.60,1551.23 L580.63,1551.33 L582.67,1551.44 L584.70,1551.54 L586.74,1551.64 L588.78,1551.73 L590.81,1551.83 L592.85,1551.92 L594.89,1552.02 L596.92,1552.11 L598.96,1552.20 L601.00,1552.29 L603.03,1552.38 L605.07,1552.46 L607.11,1552.55 L609.15,1552.63 L611.18,1552.71 L613.22,1552.79 L615.26,1552.87 L617.30,1552.95 L619.33,1553.03 L621.37,1553.11 L623.41,1553.18 L625.45,1553.26 L627.48,1553.33 L629.52,1553.40 L631.56,1553.47 L633.60,1553.54 L635.64,1553.61 L637.67,1553.68 L639.71,1553.74 L641.75,1553.81 L643.79,1553.87 L645.83,1553.94 L647.86,1554.00 L649.90,1554.06 L651.94,1554.12 L653.98,1554.18 L656.02,1554.24 L658.05,1554.30 L660.09,1554.36 L662.13,1554.42 L664.17,1554.47 L666.20,1554.53 L668.24,1554.59 L670.28,1554.64 L672.32,1554.69 L674.35,1554.75 L676.39,1554.80 L678.43,1554.85 L680.46,1554.90 L682.50,1554.95 L684.54,1555.00 L686.57,1555.05 L688.61,1555.10 L690.65,1555.15 L692.68,1555.20 L694.72,1555.25 L696.75,1555.29 L698.79,1555.34 L700.82,1555.39 L702.86,1555.43 L704.89,1555.48 L706.93,1555.53 L708.96,1555.57 L711.00,1555.62 L713.03,1555.66 L715.07,1555.71 L717.10,1555.75 L719.13,1555.79 L721.17,1555.84 L723.20,1555.88 L725.23,1555.93 L727.27,1555.97 L729.30,1556.01 L731.33,1556.06 L733.36,1556.10 L735.40,1556.14 L737.43,1556.19 L739.46,1556.23 L741.49,1556.27 L743.52,1556.32 L745.55,1556.36 L747.58,1556.40 L749.61,1556.44 L751.64,1556.49 L753.67,1556.53 L755.70,1556.57 L757.73,1556.61 L759.76,1556.66 L761.79,1556.70 L763.82,1556.74 L765.85,1556.78 L767.88,1556.83 L769.90,1556.87 L771.93,1556.91 L773.96,1556.95 L775.99,1556.99 L778.02,1557.03 L780.04,1557.08 L782.07,1557.12 L784.10,1557.16 L786.13,1557.20 L788.15,1557.24 L790.18,1557.28 L792.21,1557.33 L794.23,1557.37 L796.26,1557.41 L798.29,1557.45 L800.31,1557.49 L802.34,1557.53 L804.37,1557.57 L806.39,1557.62 L808.42,1557.66 L810.44,1557.70 L812.47,1557.74 L814.50,1557.78 L816.52,1557.82 L818.55,1557.86 L820.57,1557.91 L822.60,1557.95 L824.62,1557.99 L826.65,1558.03 L828.67,1558.07 L830.70,1558.11 L832.72,1558.15 L834.75,1558.19 L836.77,1558.24 L838.80,1558.28 L840.82,1558.32 L842.85,1558.36 L844.87,1558.40 L846.89,1558.44 L848.92,1558.48 L850.94,1558.53 L852.97,1558.57 L854.99,1558.61 L857.02,1558.65 L859.04,1558.69 L861.07,1558.73 L863.09,1558.78 L865.11,1558.82 L867.14,1558.86 L869.16,1558.90 L871.19,1558.94 L873.21,1558.99 L875.24,1559.03 L877.26,1559.07 L879.29,1559.11 L881.31,1559.16 L883.33,1559.20 L885.36,1559.24 L887.38,1559.28 L889.41,1559.33 L891.43,1559.37 L893.46,1559.41 L895.48,1559.46 L897.51,1559.50 L899.53,1559.54 L901.56,1559.58 L903.58,1559.63 L905.60,1559.67 L907.63,1559.71 L909.65,1559.76 L911.68,1559.80 L913.70,1559.85 L915.73,1559.89 L917.76,1559.93 L919.78,1559.98 L921.81,1560.02 L923.83,1560.07 L925.86,1560.11 L927.88,1560.16 L929.91,1560.20 L931.93,1560.25 L933.96,1560.29 L935.99,1560.34 L938.01,1560.38 L940.04,1560.43 L942.07,1560.47 L944.09,1560.52 L946.12,1560.56 L948.15,1560.61 L950.17,1560.66 L952.20,1560.70 L954.23,1560.75 L956.25,1560.80 L958.28,1560.84 L960.31,1560.89 L962.34,1560.94 L964.37,1560.98 L966.39,1561.03 L968.42,1561.08 L970.45,1561.13 L972.48,1561.18 L974.51,1561.22 L976.54,1561.27 L978.57,1561.32 L980.59,1561.37 L982.62,1561.42 L984.65,1561.47 L986.68,1561.52 L988.71,1561.57 L990.74,1561.62 L992.77,1561.67 L994.80,1561.72 L996.84,1561.77 L998.87,1561.82 L1000.90,1561.87 L1002.93,1561.92 L1004.96,1561.97 L1006.99,1562.02" fill="none" stroke="#008000" stroke-width="4.3" stroke-linejoin="round"/>
<path d="M117.08,1431.20 L118.78,1432.37 L120.49,1433.52 L122.21,1434.66 L123.93,1435.79 L125.65,1436.91 L127.38,1438.02 L129.11,1439.12 L130.85,1440.21 L132.59,1441.29 L134.33,1442.35 L136.08,1443.41 L137.83,1444.46 L139.58,1445.50 L141.34,1446.53 L143.10,1447.54 L144.87,1448.55 L146.64,1449.55 L148.41,1450.54 L150.19,1451.52 L151.97,1452.48 L153.75,1453.44 L155.54,1454.39 L157.33,1455.33 L159.12,1456.26 L160.92,1457.19 L162.72,1458.10 L164.52,1459.00 L166.33,1459.89 L168.14,1460.78 L169.96,1461.65 L171.77,1462.52 L173.59,1463.38 L175.42,1464.22 L177.24,1465.06 L179.07,1465.89 L180.91,1466.72 L182.74,1467.53 L184.58,1468.33 L186.43,1469.13 L188.27,1469.92 L190.12,1470.70 L191.97,1471.47 L193.83,1472.23 L195.68,1472.99 L197.54,1473.73 L199.41,1474.47 L201.27,1475.20 L203.14,1475.92 L205.01,1476.64 L206.89,1477.34 L208.76,1478.04 L210.64,1478.73 L212.52,1479.42 L214.41,1480.09 L216.30,1480.76 L218.19,1481.42 L220.08,1482.07 L221.98,1482.72 L223.87,1483.36 L225.77,1483.99 L227.68,1484.61 L229.58,1485.23 L231.49,1485.84 L233.40,1486.44 L235.31,1487.04 L237.23,1487.62 L239.14,1488.21 L241.06,1488.78 L242.98,1489.35 L244.91,1489.91 L246.83,1490.47 L248.76,1491.01 L250.69,1491.56 L252.62,1492.09 L254.56,1492.62 L256.49,1493.14 L258.43,1493.66 L260.37,1494.17 L262.31,1494.67 L264.26,1495.17 L266.20,1495.66 L268.15,1496.15 L270.10,1496.63 L272.05,1497.11 L274.01,1497.57 L275.96,1498.04 L277.92,1498.49 L279.88,1498.95 L281.84,1499.39 L283.80,1499.83 L285.76,1500.27 L287.73,1500.70 L289.70,1501.12 L291.67,1501.54 L293.64,1501.96 L295.61,1502.37 L297.58,1502.77 L299.56,1503.17 L301.53,1503.56 L303.51,1503.95 L305.49,1504.34 L307.47,1504.72 L309.45,1505.09 L311.43,1505.46 L313.42,1505.83 L315.40,1506.19 L317.39,1506.55 L319.38,1506.90 L321.36,1507.25 L323.35,1507.59 L325.34,1507.93 L327.34,1508.27 L329.33,1508.60 L331.32,1508.93 L333.32,1509.25 L335.32,1509.57 L337.31,1509.89 L339.31,1510.20 L341.31,1510.51 L343.31,1510.81 L345.31,1511.11 L347.31,1511.41 L349.31,1511.71 L351.32,1512.00 L353.32,1512.28 L355.33,1512.57 L357.33,1512.85 L359.34,1513.13 L361.34,1513.40 L363.35,1513.67 L365.36,1513.94 L367.37,1514.21 L369.37,1514.47 L371.38,1514.73 L373.39,1514.99 L375.40,1515.24 L377.41,1515.49 L379.42,1515.74 L381.43,1515.99 L383.45,1516.23 L385.46,1516.47 L387.47,1516.71 L389.48,1516.95 L391.49,1517.19 L393.51,1517.42 L395.52,1517.65 L397.53,1517.88 L399.55,1518.11 L401.56,1518.33 L403.57,1518.55 L405.59,1518.77 L407.60,1518.99 L409.61,1519.21 L411.63,1519.43 L413.64,1519.64 L415.65,1519.85 L417.67,1520.06 L419.68,1520.27 L421.69,1520.48 L423.71,1520.68 L425.72,1520.88 L427.74,1521.08 L429.75,1521.28 L431.76,1521.48 L433.78,1521.68 L435.79,1521.87 L437.81,1522.06 L439.82,1522.25 L441.84,1522.44 L443.85,1522.63 L445.87,1522.82 L447.88,1523.00 L449.89,1523.18 L451.91,1523.36 L453.92,1523.54 L455.94,1523.72 L457.95,1523.89 L459.97,1524.07 L461.98,1524.24 L464.00,1524.41 L466.01,1524.58 L468.03,1524.75 L470.05,1524.91 L472.06,1525.08 L474.08,1525.24 L476.09,1525.40 L478.11,1525.56 L480.12,1525.72 L482.14,1525.87 L484.15,1526.03 L486.17,1526.18 L488.19,1526.33 L490.20,1526.48 L492.22,1526.63 L494.23,1526.78 L496.25,1526.93 L498.27,1527.07 L500.28,1527.21 L502.30,1527.35 L504.31,1527.49 L506.33,1527.63 L508.35,1527.77 L510.36,1527.91 L512.38,1528.04 L514.40,1528.17 L516.41,1528.30 L518.43,1528.43 L520.45,1528.56 L522.46,1528.69 L524.48,1528.82 L526.50,1528.94 L528.51,1529.07 L530.53,1529.19 L532.55,1529.31 L534.56,1529.43 L536.58,1529.55 L538.60,1529.66 L540.61,1529.78 L542.63,1529.89 L544.65,1530.01 L546.67,1530.12 L548.68,1530.23 L550.70,1530.34 L552.72,1530.45 L554.74,1530.55 L556.75,1530.66 L558.77,1530.76 L560.79,1530.87 L562.81,1530.97 L564.82,1531.07 L566.84,1531.17 L568.86,1531.27 L570.88,1531.37 L572.89,1531.46 L574.91,1531.56 L576.93,1531.65 L578.95,1531.75 L580.97,1531.84 L582.98,1531.93 L585.00,1532.02 L587.02,1532.11 L589.04,1532.19 L591.06,1532.28 L593.07,1532.37 L595.09,1532.45 L597.11,1532.53 L599.13,1532.62 L601.15,1532.70 L603.17,1532.78 L605.18,1532.86 L607.20,1532.94 L609.22,1533.01 L611.24,1533.09 L613.26,1533.17 L615.28,1533.24 L617.29,1533.31 L619.31,1533.39 L621.33,1533.46 L623.35,1533.53 L625.37,1533.60 L627.39,1533.67 L629.41,1533.74 L631.43,1533.80 L633.44,1533.87 L635.46,1533.94 L637.48,1534.00 L639.50,1534.06 L641.52,1534.13 L643.54,1534.19 L645.56,1534.25 L647.58,1534.31 L649.60,1534.37 L651.61,1534.43 L653.63,1534.49 L655.65,1534.55 L657.67,1534.60 L659.69,1534.66 L661.71,1534.71 L663.73,1534.77 L665.75,1534.82 L667.77,1534.88 L669.79,1534.93 L671.81,1534.98 L673.82,1535.03 L675.84,1535.08 L677.86,1535.13 L679.88,1535.18 L681.90,1535.23 L683.92,1535.27 L685.94,1535.32 L687.96,1535.37 L689.98,1535.41 L692.00,1535.46 L694.02,1535.50 L696.04,1535.55 L698.06,1535.59 L700.08,1535.63 L702.10,1535.67 L704.12,1535.72 L706.14,1535.76 L708.16,1535.80 L710.17,1535.84 L712.19,1535.88 L714.21,1535.92 L716.23,1535.95 L718.25,1535.99 L720.27,1536.03 L722.29,1536.07 L724.31,1536.10 L726.33,1536.14 L728.35,1536.18 L730.37,1536.21 L732.39,1536.24 L734.41,1536.28 L736.43,1536.31 L738.45,1536.35 L740.47,1536.38 L742.49,1536.41 L744.51,1536.44 L746.53,1536.48 L748.55,1536.51 L750.57,1536.54 L752.59,1536.57 L754.61,1536.60 L756.63,1536.63 L758.65,1536.66 L760.67,1536.69 L762.69,1536.72 L764.71,1536.75 L766.73,1536.78 L768.75,1536.81 L770.77,1536.83 L772.79,1536.86 L774.81,1536.89 L776.83,1536.92 L778.84,1536.94 L780.86,1536.97 L782.88,1537.00 L784.90,1537.02 L786.92,1537.05 L788.94,1537.08 L790.96,1537.10 L792.98,1537.13 L795.00,1537.15 L797.02,1537.18 L799.04,1537.20 L801.06,1537.23 L803.08,1537.25 L805.10,1537.28 L807.12,1537.30 L809.14,1537.33 L811.16,1537.35 L813.18,1537.38 L815.20,1537.40 L817.22,1537.43 L819.24,1537.45 L821.26,1537.48 L823.28,1537.50 L825.30,1537.52 L827.32,1537.55 L829.34,1537.57 L831.36,1537.60 L833.38,1537.62 L835.40,1537.65 L837.42,1537.67 L839.44,1537.70 L841.46,1537.72 L843.48,1537.74 L845.50,1537.77 L847.52,1537.79 L849.54,1537.82 L851.56,1537.84 L853.57,1537.87 L855.59,1537.89 L857.61,1537.92 L859.63,1537.94 L861.65,1537.97 L863.67,1537.99 L865.69,1538.02 L867.71,1538.05 L869.73,1538.07 L871.75,1538.10 L873.77,1538.12 L875.79,1538.15 L877.81,1538.18 L879.83,1538.20 L881.85,1538.23 L883.87,1538.26 L885.89,1538.29 L887.91,1538.31 L889.92,1538.34 L891.94,1538.37 L893.96,1538.40 L895.98,1538.43 L898.00,1538.46 L900.02,1538.49 L902.04,1538.52 L904.06,1538.55 L906.08,1538.58 L908.10,1538.61 L910.12,1538.64 L912.14,1538.67 L914.15,1538.71 L916.17,1538.74 L918.19,1538.77 L920.21,1538.80 L922.23,1538.84 L924.25,1538.87 L926.27,1538.91 L928.29,1538.94 L930.31,1538.98 L932.32,1539.01 L934.34,1539.05 L936.36,1539.08 L938.38,1539.12 L940.40,1539.16 L942.42,1539.20 L944.44,1539.24 L946.45,1539.27 L948.47,1539.31 L950.49,1539.35 L952.51,1539.39 L954.53,1539.44 L956.55,1539.48 L958.57,1539.52 L960.58,1539.56 L962.60,1539.61 L964.62,1539.65 L966.64,1539.70 L968.66,1539.74 L970.68,1539.79 L972.69,1539.83 L974.71,1539.88 L976.73,1539.93 L978.75,1539.98 L980.77,1540.03 L982.78,1540.08 L984.80,1540.13 L986.82,1540.18 L988.84,1540.23 L990.86,1540.28 L992.87,1540.33 L994.89,1540.39 L996.91,1540.44 L998.93,1540.50 L1000.94,1540.55 L1002.96,1540.61 L1004.98,1540.67 L1007.00,1540.73" fill="none" stroke="#008000" stroke-width="4.0" stroke-dasharray="15.4 20.9" stroke-dashoffset="-2.0" stroke-linejoin="round"/>
<path d="M117.10,1601.28 L118.93,1599.99 L120.76,1598.69 L122.59,1597.40 L124.41,1596.10 L126.24,1594.80 L128.06,1593.49 L129.88,1592.19 L131.70,1590.88 L133.52,1589.58 L135.34,1588.26 L137.15,1586.95 L138.97,1585.64 L140.78,1584.32 L142.59,1583.01 L144.40,1581.69 L146.21,1580.37 L148.01,1579.04 L149.82,1577.72 L151.62,1576.39 L153.43,1575.07 L155.23,1573.74 L157.03,1572.41 L158.83,1571.07 L160.62,1569.74 L162.42,1568.40 L164.22,1567.07 L166.01,1565.73 L167.80,1564.39 L169.59,1563.05 L171.39,1561.70 L173.17,1560.36 L174.96,1559.01 L176.75,1557.67 L178.54,1556.32 L180.32,1554.97 L182.11,1553.62 L183.89,1552.26 L185.68,1550.91 L187.46,1549.56 L189.24,1548.20 L191.02,1546.84 L192.80,1545.48 L194.58,1544.12 L196.36,1542.76 L198.13,1541.40 L199.91,1540.04 L201.69,1538.67 L203.46,1537.31 L205.23,1535.94 L207.01,1534.57 L208.78,1533.20 L210.55,1531.83 L212.33,1530.46 L214.10,1529.09 L215.87,1527.72 L217.64,1526.35 L219.41,1524.97 L221.18,1523.60 L222.95,1522.22 L224.72,1520.84 L226.49,1519.46 L228.25,1518.09 L230.02,1516.71 L231.79,1515.33 L233.56,1513.95 L235.32,1512.56 L237.09,1511.18 L238.86,1509.80 L240.62,1508.41 L242.39,1507.03 L244.15,1505.64 L245.92,1504.26 L247.68,1502.87 L249.45,1501.49 L251.22,1500.10 L252.98,1498.71 L254.75,1497.32 L256.51,1495.93 L258.28,1494.54 L260.04,1493.15 L261.81,1491.76 L263.57,1490.37 L265.34,1488.98 L267.10,1487.59 L268.87,1486.20 L270.64,1484.81 L272.40,1483.41 L274.17,1482.02 L275.94,1480.63 L277.70,1479.24 L279.47,1477.85 L281.24,1476.46 L283.01,1475.06 L284.78,1473.67 L286.55,1472.28 L288.31,1470.89 L290.08,1469.50 L291.85,1468.11 L293.63,1466.72 L295.40,1465.33 L297.17,1463.94 L298.94,1462.56 L300.71,1461.17 L302.49,1459.78 L304.26,1458.40 L306.04,1457.01 L307.81,1455.63 L309.59,1454.24 L311.37,1452.86 L313.14,1451.48 L314.92,1450.10 L316.70,1448.72 L318.48,1447.34 L320.26,1445.96 L322.05,1444.59 L323.83,1443.21 L325.61,1441.84 L327.40,1440.47 L329.18,1439.10 L330.97,1437.73 L332.76,1436.36 L334.55,1435.00 L336.34,1433.63 L338.13,1432.27 L339.92,1430.91 L341.72,1429.55 L343.51,1428.19 L345.31,1426.83 L347.10,1425.48 L348.90,1424.13 L350.70,1422.78 L352.50,1421.43 L354.31,1420.08 L356.11,1418.74 L357.91,1417.40 L359.72,1416.06 L361.53,1414.72 L363.34,1413.39 L365.15,1412.06 L366.96,1410.73 L368.77,1409.40 L370.59,1408.07 L372.41,1406.75 L374.22,1405.43 L376.04,1404.11 L377.87,1402.80 L379.69,1401.49 L381.51,1400.18 L383.34,1398.87 L385.17,1397.57 L387.00,1396.27 L388.83,1394.97 L390.66,1393.68 L392.50,1392.39 L394.34,1391.10 L396.18,1389.81 L398.02,1388.53 L399.86,1387.25 L401.71,1385.98 L403.55,1384.70 L405.40,1383.44 L407.25,1382.17 L409.11,1380.91 L410.96,1379.65 L412.82,1378.40 L414.68,1377.15 L416.54,1375.90 L418.40,1374.66 L420.27,1373.42 L422.14,1372.18 L424.01,1370.95 L425.88,1369.72 L427.76,1368.50 L429.63,1367.28 L431.51,1366.06 L433.39,1364.85 L435.28,1363.64 L437.16,1362.44 L439.05,1361.24 L440.95,1360.05 L442.84,1358.86 L444.74,1357.67 L446.63,1356.49 L448.54,1355.31 L450.44,1354.14 L452.35,1352.97 L454.26,1351.81 L456.17,1350.65 L458.08,1349.50 L460.00,1348.35 L461.92,1347.20 L463.84,1346.06 L465.76,1344.92 L467.69,1343.79 L469.62,1342.66 L471.55,1341.54 L473.48,1340.42 L475.42,1339.30 L477.36,1338.19 L479.30,1337.08 L481.24,1335.98 L483.19,1334.88 L485.14,1333.79 L487.09,1332.70 L489.04,1331.62 L490.99,1330.54 L492.95,1329.46 L494.91,1328.39 L496.87,1327.32 L498.84,1326.25 L500.80,1325.19 L502.77,1324.14 L504.74,1323.09 L506.71,1322.04 L508.69,1320.99 L510.67,1319.96 L512.65,1318.92 L514.63,1317.89 L516.61,1316.86 L518.60,1315.84 L520.58,1314.82 L522.57,1313.80 L524.57,1312.79 L526.56,1311.79 L528.56,1310.78 L530.56,1309.78 L532.56,1308.79 L534.56,1307.80 L536.56,1306.81 L538.57,1305.83 L540.58,1304.85 L542.59,1303.87 L544.60,1302.90 L546.62,1301.93 L548.63,1300.97 L550.65,1300.01 L552.67,1299.05 L554.70,1298.10 L556.72,1297.15 L558.75,1296.20 L560.78,1295.26 L562.81,1294.33 L564.84,1293.39 L566.87,1292.46 L568.91,1291.54 L570.95,1290.61 L572.98,1289.70 L575.03,1288.78 L577.07,1287.87 L579.11,1286.96 L581.16,1286.06 L583.21,1285.16 L585.26,1284.26 L587.31,1283.37 L589.37,1282.48 L591.42,1281.59 L593.48,1280.71 L595.54,1279.83 L597.60,1278.95 L599.66,1278.08 L601.73,1277.21 L603.79,1276.35 L605.86,1275.49 L607.93,1274.63 L610.00,1273.77 L612.07,1272.92 L614.14,1272.08 L616.22,1271.23 L618.30,1270.39 L620.38,1269.55 L622.46,1268.72 L624.54,1267.89 L626.62,1267.06 L628.71,1266.24 L630.79,1265.42 L632.88,1264.60 L634.97,1263.79 L637.06,1262.98 L639.15,1262.17 L641.25,1261.37 L643.34,1260.57 L645.44,1259.77 L647.54,1258.97 L649.64,1258.18 L651.74,1257.39 L653.84,1256.61 L655.95,1255.83 L658.05,1255.05 L660.16,1254.28 L662.27,1253.50 L664.38,1252.73 L666.49,1251.97 L668.60,1251.21 L670.71,1250.45 L672.83,1249.69 L674.94,1248.94 L677.06,1248.19 L679.18,1247.44 L681.30,1246.70 L683.42,1245.95 L685.54,1245.22 L687.66,1244.48 L689.79,1243.75 L691.91,1243.02 L694.04,1242.29 L696.17,1241.57 L698.30,1240.85 L700.43,1240.13 L702.56,1239.42 L704.69,1238.71 L706.83,1238.00 L708.96,1237.29 L711.10,1236.59 L713.24,1235.89 L715.37,1235.19 L717.51,1234.50 L719.65,1233.80 L721.79,1233.12 L723.94,1232.43 L726.08,1231.75 L728.23,1231.07 L730.37,1230.39 L732.52,1229.71 L734.66,1229.04 L736.81,1228.37 L738.96,1227.70 L741.11,1227.04 L743.26,1226.38 L745.42,1225.72 L747.57,1225.06 L749.72,1224.41 L751.88,1223.75 L754.03,1223.11 L756.19,1222.46 L758.35,1221.82 L760.51,1221.17 L762.66,1220.54 L764.82,1219.90 L766.98,1219.27 L769.15,1218.64 L771.31,1218.01 L773.47,1217.38 L775.63,1216.76 L777.80,1216.14 L779.96,1215.52 L782.13,1214.90 L784.30,1214.29 L786.46,1213.68 L788.63,1213.07 L790.80,1212.46 L792.97,1211.86 L795.14,1211.25 L797.31,1210.66 L799.48,1210.06 L801.65,1209.46 L803.83,1208.87 L806.00,1208.28 L808.17,1207.69 L810.35,1207.11 L812.52,1206.52 L814.70,1205.94 L816.88,1205.36 L819.05,1204.78 L821.23,1204.21 L823.41,1203.64 L825.58,1203.07 L827.76,1202.50 L829.94,1201.93 L832.12,1201.37 L834.30,1200.81 L836.48,1200.25 L838.66,1199.69 L840.84,1199.13 L843.03,1198.58 L845.21,1198.03 L847.39,1197.48 L849.57,1196.93 L851.76,1196.39 L853.94,1195.84 L856.12,1195.30 L858.31,1194.76 L860.49,1194.23 L862.68,1193.69 L864.86,1193.16 L867.05,1192.62 L869.23,1192.09 L871.42,1191.57 L873.61,1191.04 L875.79,1190.52 L877.98,1189.99 L880.17,1189.47 L882.35,1188.96 L884.54,1188.44 L886.73,1187.92 L888.92,1187.41 L891.10,1186.90 L893.29,1186.39 L895.48,1185.88 L897.67,1185.38 L899.86,1184.87 L902.04,1184.37 L904.23,1183.87 L906.42,1183.37 L908.61,1182.87 L910.80,1182.38 L912.99,1181.88 L915.18,1181.39 L917.37,1180.90 L919.55,1180.41 L921.74,1179.92 L923.93,1179.44 L926.12,1178.95 L928.31,1178.47 L930.50,1177.99 L932.69,1177.51 L934.88,1177.03 L937.06,1176.55 L939.25,1176.08 L941.44,1175.60 L943.63,1175.13 L945.82,1174.66 L948.01,1174.19 L950.19,1173.72 L952.38,1173.26 L954.57,1172.79 L956.76,1172.33 L958.94,1171.87 L961.13,1171.40 L963.32,1170.94 L965.50,1170.49 L967.69,1170.03 L969.88,1169.57 L972.06,1169.12 L974.25,1168.67 L976.43,1168.21 L978.62,1167.76 L980.80,1167.32 L982.99,1166.87 L985.17,1166.42 L987.36,1165.97 L989.54,1165.53 L991.72,1165.09 L993.91,1164.65 L996.09,1164.20 L998.27,1163.77 L1000.45,1163.33 L1002.63,1162.89 L1004.81,1162.45 L1006.99,1162.02" fill="none" stroke="#ff00ff" stroke-width="4.3" stroke-linejoin="round"/>
<path d="M117.12,1601.34 L118.91,1600.30 L120.71,1599.27 L122.50,1598.24 L124.30,1597.21 L126.10,1596.18 L127.91,1595.16 L129.71,1594.14 L131.51,1593.12 L133.32,1592.10 L135.13,1591.09 L136.94,1590.08 L138.75,1589.07 L140.56,1588.06 L142.37,1587.06 L144.19,1586.06 L146.00,1585.06 L147.82,1584.06 L149.64,1583.07 L151.46,1582.08 L153.28,1581.09 L155.10,1580.10 L156.93,1579.12 L158.75,1578.14 L160.58,1577.16 L162.41,1576.19 L164.24,1575.21 L166.07,1574.24 L167.90,1573.28 L169.73,1572.31 L171.57,1571.35 L173.40,1570.39 L175.24,1569.43 L177.08,1568.48 L178.92,1567.53 L180.76,1566.58 L182.60,1565.63 L184.44,1564.69 L186.29,1563.74 L188.14,1562.81 L189.98,1561.87 L191.83,1560.94 L193.68,1560.01 L195.53,1559.08 L197.39,1558.15 L199.24,1557.23 L201.10,1556.31 L202.95,1555.39 L204.81,1554.48 L206.67,1553.56 L208.53,1552.65 L210.39,1551.75 L212.25,1550.84 L214.12,1549.94 L215.98,1549.04 L217.85,1548.15 L219.72,1547.25 L221.59,1546.36 L223.46,1545.48 L225.33,1544.59 L227.20,1543.71 L229.07,1542.83 L230.95,1541.95 L232.83,1541.08 L234.70,1540.20 L236.58,1539.33 L238.46,1538.47 L240.34,1537.60 L242.23,1536.74 L244.11,1535.89 L245.99,1535.03 L247.88,1534.18 L249.77,1533.33 L251.65,1532.48 L253.54,1531.64 L255.43,1530.79 L257.33,1529.95 L259.22,1529.12 L261.11,1528.28 L263.01,1527.45 L264.90,1526.63 L266.80,1525.80 L268.70,1524.98 L270.60,1524.16 L272.50,1523.34 L274.40,1522.53 L276.31,1521.72 L278.21,1520.91 L280.12,1520.10 L282.02,1519.30 L283.93,1518.50 L285.84,1517.70 L287.75,1516.90 L289.66,1516.11 L291.57,1515.32 L293.49,1514.53 L295.40,1513.75 L297.32,1512.97 L299.23,1512.19 L301.15,1511.41 L303.07,1510.64 L304.99,1509.87 L306.91,1509.10 L308.83,1508.33 L310.75,1507.57 L312.68,1506.81 L314.60,1506.05 L316.53,1505.30 L318.45,1504.55 L320.38,1503.80 L322.31,1503.05 L324.24,1502.31 L326.17,1501.57 L328.10,1500.83 L330.03,1500.09 L331.97,1499.36 L333.90,1498.63 L335.84,1497.90 L337.77,1497.18 L339.71,1496.45 L341.65,1495.73 L343.59,1495.02 L345.53,1494.30 L347.47,1493.59 L349.41,1492.88 L351.36,1492.17 L353.30,1491.47 L355.25,1490.77 L357.19,1490.07 L359.14,1489.37 L361.09,1488.68 L363.04,1487.99 L364.99,1487.30 L366.94,1486.62 L368.89,1485.93 L370.84,1485.25 L372.79,1484.57 L374.75,1483.90 L376.70,1483.23 L378.66,1482.56 L380.62,1481.89 L382.57,1481.23 L384.53,1480.56 L386.49,1479.90 L388.45,1479.25 L390.41,1478.59 L392.37,1477.94 L394.34,1477.29 L396.30,1476.65 L398.26,1476.00 L400.23,1475.36 L402.20,1474.72 L404.16,1474.09 L406.13,1473.45 L408.10,1472.82 L410.07,1472.19 L412.04,1471.57 L414.01,1470.94 L415.98,1470.32 L417.95,1469.71 L419.92,1469.09 L421.90,1468.48 L423.87,1467.87 L425.85,1467.26 L427.82,1466.65 L429.80,1466.05 L431.78,1465.45 L433.76,1464.85 L435.73,1464.26 L437.71,1463.66 L439.69,1463.07 L441.68,1462.49 L443.66,1461.90 L445.64,1461.32 L447.62,1460.74 L449.61,1460.16 L451.59,1459.58 L453.58,1459.01 L455.56,1458.44 L457.55,1457.87 L459.54,1457.31 L461.52,1456.74 L463.51,1456.18 L465.50,1455.62 L467.49,1455.07 L469.48,1454.51 L471.48,1453.96 L473.47,1453.41 L475.46,1452.86 L477.45,1452.32 L479.45,1451.77 L481.44,1451.23 L483.44,1450.70 L485.43,1450.16 L487.43,1449.63 L489.43,1449.10 L491.43,1448.57 L493.42,1448.04 L495.42,1447.51 L497.42,1446.99 L499.42,1446.47 L501.42,1445.95 L503.43,1445.44 L505.43,1444.92 L507.43,1444.41 L509.43,1443.90 L511.44,1443.39 L513.44,1442.89 L515.45,1442.38 L517.45,1441.88 L519.46,1441.38 L521.47,1440.89 L523.47,1440.39 L525.48,1439.90 L527.49,1439.41 L529.50,1438.92 L531.51,1438.43 L533.52,1437.95 L535.53,1437.46 L537.54,1436.98 L539.55,1436.50 L541.57,1436.03 L543.58,1435.55 L545.59,1435.08 L547.61,1434.61 L549.62,1434.14 L551.64,1433.67 L553.65,1433.20 L555.67,1432.74 L557.68,1432.28 L559.70,1431.82 L561.72,1431.36 L563.74,1430.90 L565.75,1430.45 L567.77,1430.00 L569.79,1429.55 L571.81,1429.10 L573.83,1428.65 L575.85,1428.21 L577.88,1427.76 L579.90,1427.32 L581.92,1426.88 L583.94,1426.44 L585.97,1426.01 L587.99,1425.57 L590.01,1425.14 L592.04,1424.71 L594.06,1424.28 L596.09,1423.85 L598.11,1423.42 L600.14,1423.00 L602.17,1422.57 L604.19,1422.15 L606.22,1421.73 L608.25,1421.32 L610.28,1420.90 L612.31,1420.48 L614.34,1420.07 L616.37,1419.66 L618.40,1419.25 L620.43,1418.84 L622.46,1418.43 L624.49,1418.03 L626.52,1417.62 L628.55,1417.22 L630.58,1416.82 L632.62,1416.42 L634.65,1416.02 L636.68,1415.63 L638.72,1415.23 L640.75,1414.84 L642.79,1414.45 L644.82,1414.06 L646.86,1413.67 L648.89,1413.28 L650.93,1412.89 L652.96,1412.51 L655.00,1412.12 L657.04,1411.74 L659.07,1411.36 L661.11,1410.98 L663.15,1410.60 L665.19,1410.23 L667.23,1409.85 L669.26,1409.48 L671.30,1409.10 L673.34,1408.73 L675.38,1408.36 L677.42,1407.99 L679.46,1407.63 L681.50,1407.26 L683.54,1406.89 L685.58,1406.53 L687.63,1406.17 L689.67,1405.81 L691.71,1405.45 L693.75,1405.09 L695.79,1404.73 L697.84,1404.37 L699.88,1404.02 L701.92,1403.66 L703.96,1403.31 L706.01,1402.96 L708.05,1402.61 L710.10,1402.26 L712.14,1401.91 L714.18,1401.56 L716.23,1401.21 L718.27,1400.87 L720.32,1400.52 L722.36,1400.18 L724.41,1399.84 L726.46,1399.50 L728.50,1399.16 L730.55,1398.82 L732.59,1398.48 L734.64,1398.14 L736.69,1397.80 L738.73,1397.47 L740.78,1397.13 L742.83,1396.80 L744.88,1396.47 L746.92,1396.14 L748.97,1395.81 L751.02,1395.48 L753.07,1395.15 L755.11,1394.82 L757.16,1394.49 L759.21,1394.16 L761.26,1393.84 L763.31,1393.51 L765.36,1393.19 L767.41,1392.87 L769.45,1392.55 L771.50,1392.22 L773.55,1391.90 L775.60,1391.58 L777.65,1391.27 L779.70,1390.95 L781.75,1390.63 L783.80,1390.31 L785.85,1390.00 L787.90,1389.68 L789.95,1389.37 L792.00,1389.05 L794.05,1388.74 L796.10,1388.43 L798.15,1388.12 L800.20,1387.81 L802.25,1387.49 L804.30,1387.18 L806.35,1386.88 L808.40,1386.57 L810.46,1386.26 L812.51,1385.95 L814.56,1385.64 L816.61,1385.34 L818.66,1385.03 L820.71,1384.73 L822.76,1384.42 L824.81,1384.12 L826.86,1383.82 L828.91,1383.51 L830.96,1383.21 L833.02,1382.91 L835.07,1382.61 L837.12,1382.31 L839.17,1382.01 L841.22,1381.71 L843.27,1381.41 L845.32,1381.11 L847.37,1380.81 L849.42,1380.51 L851.47,1380.21 L853.52,1379.91 L855.58,1379.62 L857.63,1379.32 L859.68,1379.02 L861.73,1378.73 L863.78,1378.43 L865.83,1378.14 L867.88,1377.84 L869.93,1377.55 L871.98,1377.25 L874.03,1376.96 L876.08,1376.67 L878.13,1376.37 L880.18,1376.08 L882.23,1375.79 L884.28,1375.49 L886.33,1375.20 L888.38,1374.91 L890.43,1374.62 L892.48,1374.32 L894.53,1374.03 L896.58,1373.74 L898.63,1373.45 L900.68,1373.16 L902.73,1372.87 L904.78,1372.58 L906.83,1372.28 L908.87,1371.99 L910.92,1371.70 L912.97,1371.41 L915.02,1371.12 L917.07,1370.83 L919.12,1370.54 L921.16,1370.25 L923.21,1369.96 L925.26,1369.67 L927.31,1369.38 L929.35,1369.09 L931.40,1368.80 L933.45,1368.51 L935.49,1368.22 L937.54,1367.93 L939.59,1367.64 L941.63,1367.35 L943.68,1367.06 L945.72,1366.77 L947.77,1366.48 L949.82,1366.19 L951.86,1365.90 L953.91,1365.61 L955.95,1365.32 L957.99,1365.03 L960.04,1364.73 L962.08,1364.44 L964.13,1364.15 L966.17,1363.86 L968.21,1363.57 L970.26,1363.28 L972.30,1362.98 L974.34,1362.69 L976.39,1362.40 L978.43,1362.11 L980.47,1361.81 L982.51,1361.52 L984.55,1361.23 L986.59,1360.93 L988.63,1360.64 L990.67,1360.34 L992.71,1360.05 L994.75,1359.75 L996.79,1359.46 L998.83,1359.16 L1000.87,1358.87 L1002.91,1358.57 L1004.95,1358.27 L1006.99,1357.98" fill="none" stroke="#ff00ff" stroke-width="4.0" stroke-dasharray="15.4 20.9" stroke-dashoffset="-2.0" stroke-linejoin="round"/>
</g>
<rect x="651.4" y="913.8" width="322.6" height="407.4" fill="#fff" stroke="#333" stroke-width="1.3"/>
<path d="M655.7,935.0H723.6" stroke="#ff8000" stroke-width="3.4"/>
<text x="731.7" y="945.6" class="lgb">n-butane (no Cat)</text>
<path d="M655.7,971.5H723.6" stroke="#ff0000" stroke-width="3.4"/>
<text x="731.7" y="982.1" class="lgb">CO (no Cat)</text>
<path d="M655.7,1010.0H723.6" stroke="#0000ff" stroke-width="3.4"/>
<text x="731.7" y="1020.6" class="lgb">CO<tspan font-size="20.3" dy="8">2</tspan><tspan dy="-8"> (no Cat)</tspan></text>
<path d="M655.7,1054.5H723.6" stroke="#008000" stroke-width="3.4"/>
<text x="731.7" y="1065.1" class="lgb">O<tspan font-size="20.3" dy="8">2</tspan><tspan dy="-8"> (no Cat)</tspan></text>
<path d="M655.7,1098.4H723.6" stroke="#ff00ff" stroke-width="3.4"/>
<text x="731.7" y="1109" class="lgb">O (no Cat)</text>
<path d="M655.7,1135.8H671.5M691.4,1135.8H707.2" stroke="#ff8000" stroke-width="3.4"/>
<text x="731.7" y="1146.4" class="lgb">n-butane (Cat)</text>
<path d="M655.7,1173.4H671.5M691.4,1173.4H707.2" stroke="#ff0000" stroke-width="3.4"/>
<text x="731.7" y="1184" class="lgb">CO (Cat)</text>
<path d="M655.7,1210.8H671.5M691.4,1210.8H707.2" stroke="#0000ff" stroke-width="3.4"/>
<text x="731.7" y="1221.4" class="lgb">CO<tspan font-size="20.3" dy="8">2</tspan><tspan dy="-8"> (Cat)</tspan></text>
<path d="M655.7,1255.2H671.5M691.4,1255.2H707.2" stroke="#008000" stroke-width="3.4"/>
<text x="731.7" y="1265.8" class="lgb">O<tspan font-size="20.3" dy="8">2</tspan><tspan dy="-8"> (Cat)</tspan></text>
<path d="M655.7,1298.7H671.5M691.4,1298.7H707.2" stroke="#ff00ff" stroke-width="3.4"/>
<text x="731.7" y="1309.3" class="lgb">O (Cat)</text>
<text x="471.2" y="1698" class="at">P<tspan font-size="25" dy="9" dx="1.8">plasma</tspan></text>
<text transform="translate(589.2,1698) scale(1.045,1)" class="at">(W)</text>
<text transform="translate(27.9,1389.3) rotate(-90)" class="at">concentration (%)</text>
<text transform="translate(162.79,1004.05) scale(0.663,1)" style="font-size:68.35px" stroke="#000" stroke-width="1.6" stroke-linejoin="round">(</text>
<text transform="translate(184.64,1005.80) scale(0.964,1)" style="font-size:69.52px" stroke="#000" stroke-width="1.6" stroke-linejoin="round">b</text>
<text transform="translate(227.72,1004.05) scale(0.690,1)" style="font-size:68.35px" stroke="#000" stroke-width="1.6" stroke-linejoin="round">)</text>
</svg>
</body></html>
